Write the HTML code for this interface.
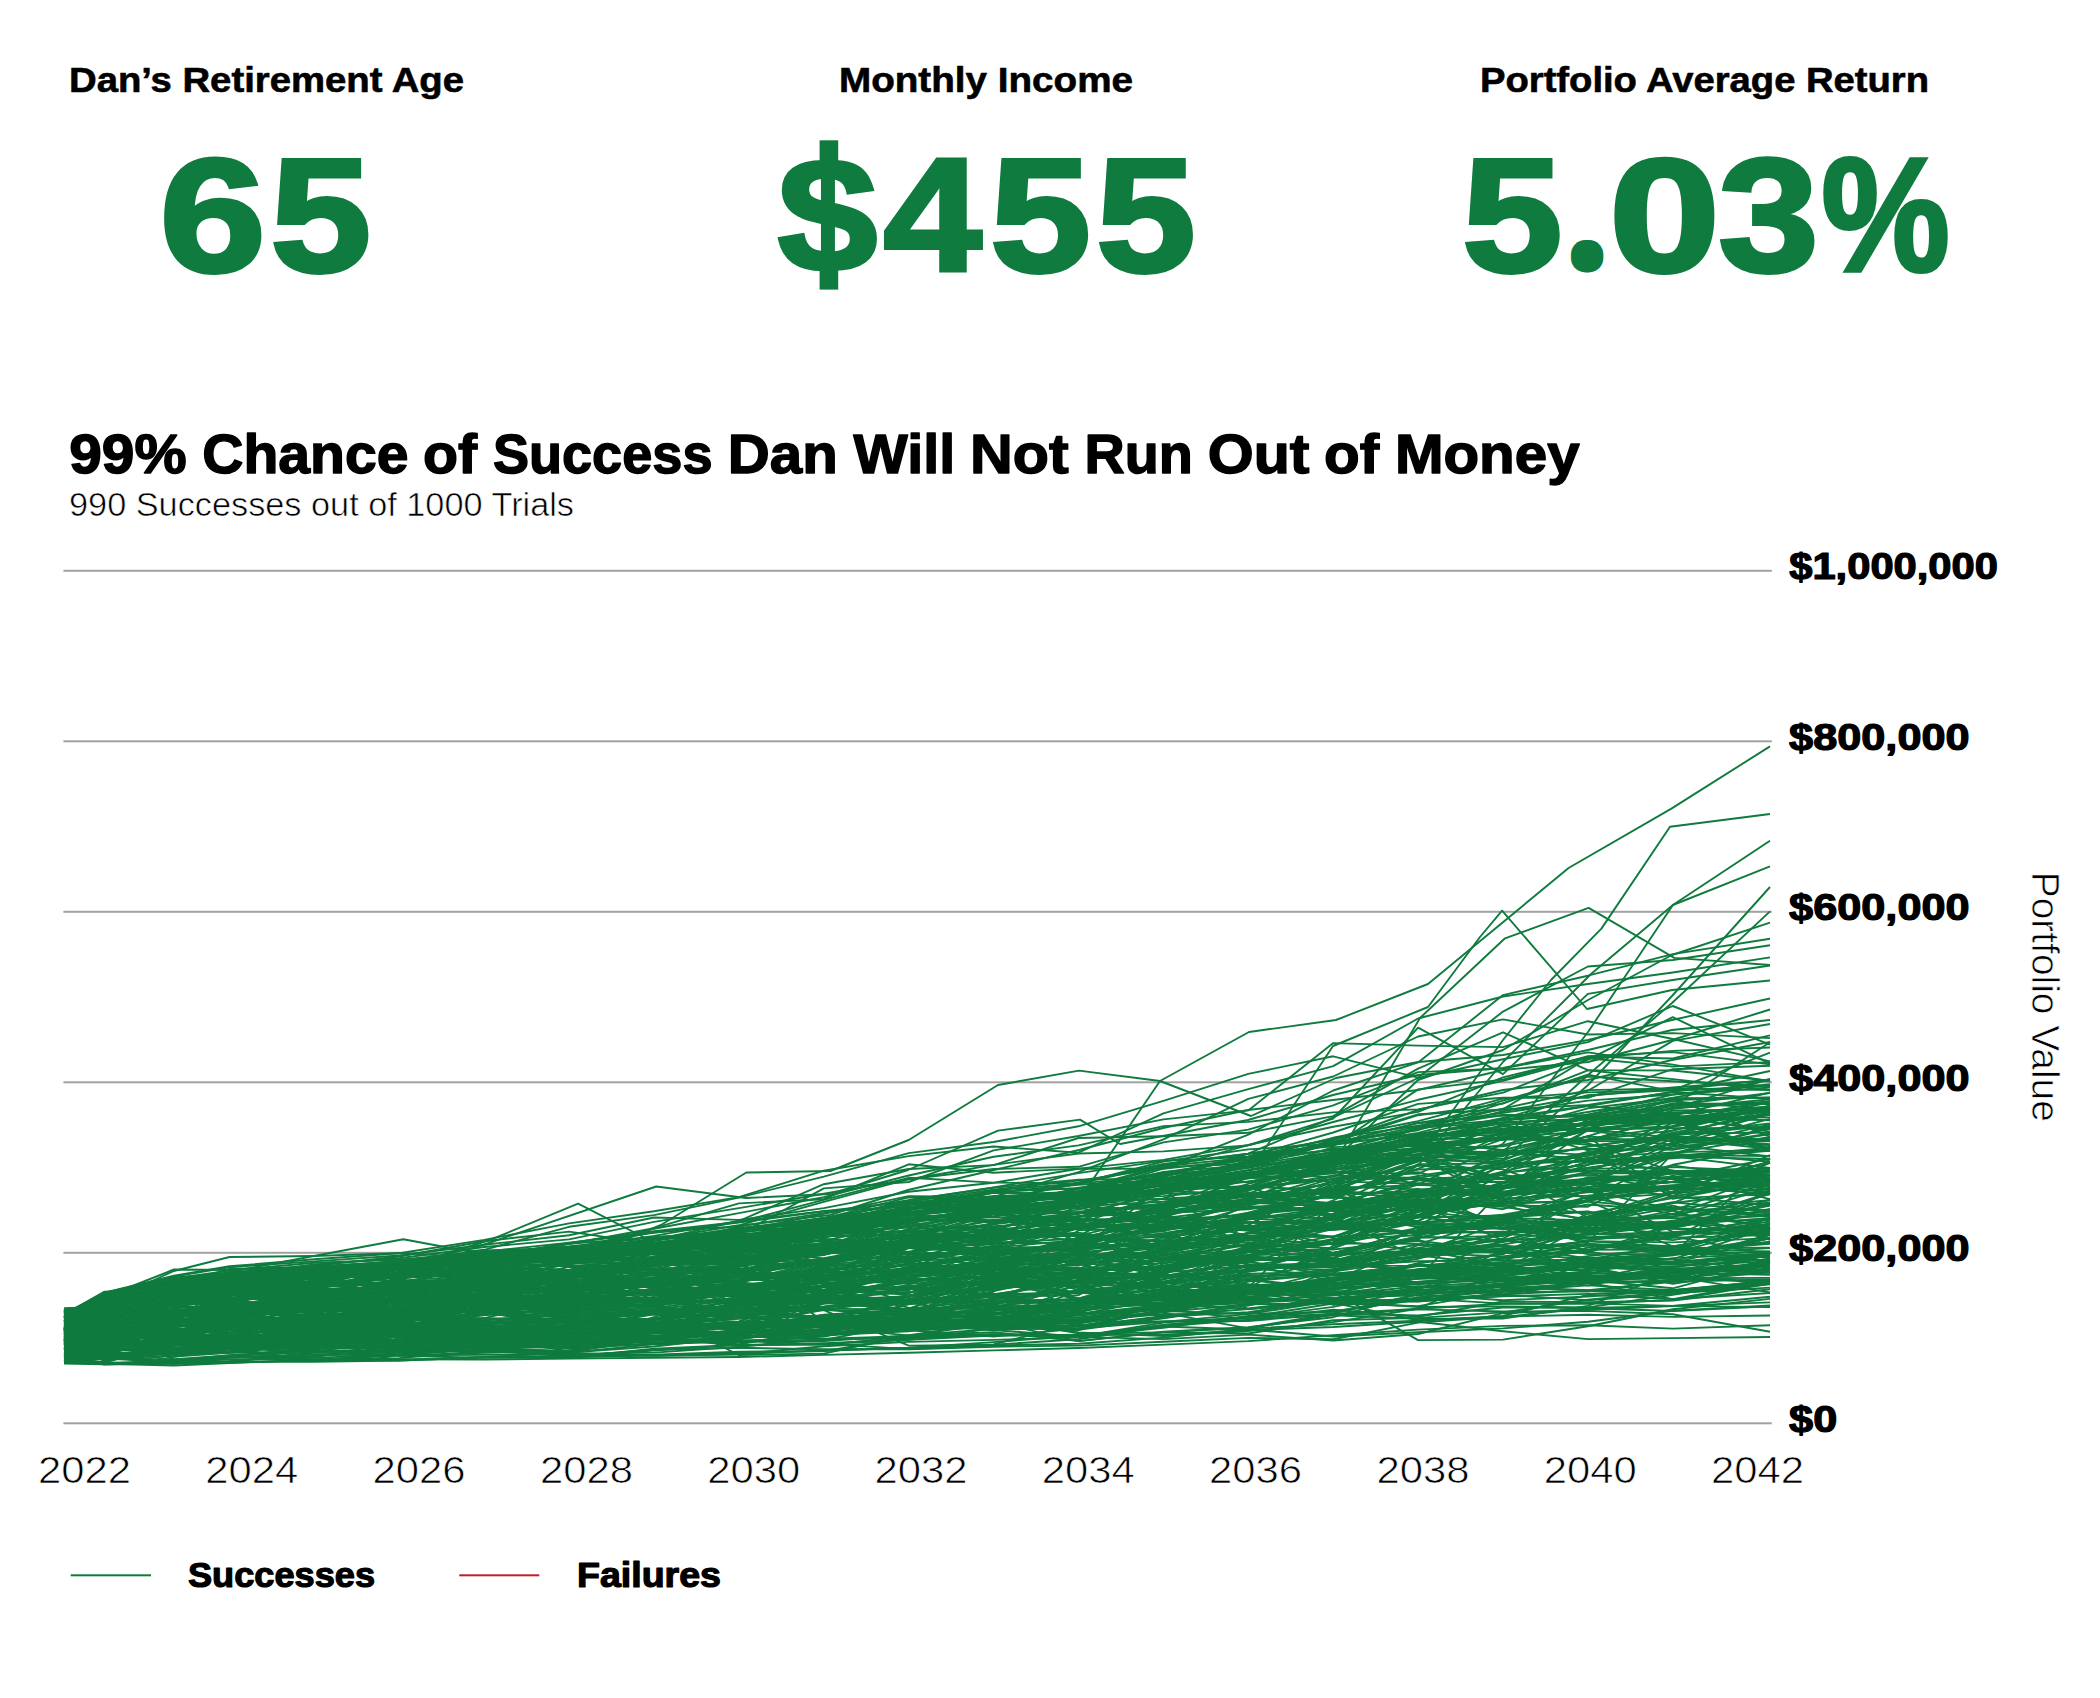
<!DOCTYPE html>
<html lang="en"><head><meta charset="utf-8"><title>Retirement Monte Carlo</title>
<style>html,body{margin:0;padding:0;background:#fff}body{width:2100px;height:1698px;overflow:hidden}svg{display:block}</style>
</head><body>
<svg width="2100" height="1698" viewBox="0 0 2100 1698">
<rect width="2100" height="1698" fill="#fff"/>
<text y="270.6" font-size="160.9" style="font-family:'Liberation Sans',Arial,sans-serif;font-weight:700" fill="#0f7b3e" stroke="#0f7b3e" stroke-width="4.0" stroke-miterlimit="3"><tspan x="159.6" textLength="106.4" lengthAdjust="spacingAndGlyphs">6</tspan><tspan x="270.3" textLength="100.9" lengthAdjust="spacingAndGlyphs">5</tspan></text>
<rect x="819.6" y="140.3" width="18.6" height="24" fill="#0f7b3e"/><rect x="819.6" y="266" width="18.6" height="23.6" fill="#0f7b3e"/>
<text y="270.6" font-size="160.9" style="font-family:'Liberation Sans',Arial,sans-serif;font-weight:700" fill="#0f7b3e" stroke="#0f7b3e" stroke-width="4.0" stroke-miterlimit="3"><tspan x="777.8" textLength="99.5" lengthAdjust="spacingAndGlyphs">$</tspan><tspan x="883.6" textLength="98.2" lengthAdjust="spacingAndGlyphs">4</tspan><tspan x="990.0" textLength="100.9" lengthAdjust="spacingAndGlyphs">5</tspan><tspan x="1096.1" textLength="99.7" lengthAdjust="spacingAndGlyphs">5</tspan></text>
<text y="270.6" font-size="160.9" style="font-family:'Liberation Sans',Arial,sans-serif;font-weight:700" fill="#0f7b3e" stroke="#0f7b3e" stroke-width="4.0" stroke-miterlimit="3"><tspan x="1462.1" textLength="100.5" lengthAdjust="spacingAndGlyphs">5</tspan><tspan x="1583.8" dy="-12.5" font-size="24.0" stroke-width="28.9" stroke-linejoin="round">.</tspan><tspan x="1609.0" dy="12.5" textLength="111.1" lengthAdjust="spacingAndGlyphs">0</tspan><tspan x="1718.2" textLength="100.5" lengthAdjust="spacingAndGlyphs">3</tspan><tspan x="1821.4" textLength="128.3" lengthAdjust="spacingAndGlyphs">%</tspan></text>
<text x="69" y="92.1" font-size="35.3" style="font-family:'Liberation Sans',Arial,sans-serif;font-weight:700" fill="#000" textLength="395" lengthAdjust="spacingAndGlyphs" stroke="#000" stroke-width="0.6" stroke-linejoin="round">Dan’s Retirement Age</text>
<text x="839" y="92.1" font-size="35.3" style="font-family:'Liberation Sans',Arial,sans-serif;font-weight:700" fill="#000" textLength="294" lengthAdjust="spacingAndGlyphs" stroke="#000" stroke-width="0.6" stroke-linejoin="round">Monthly Income</text>
<text x="1480" y="92.2" font-size="35.3" style="font-family:'Liberation Sans',Arial,sans-serif;font-weight:700" fill="#000" textLength="449" lengthAdjust="spacingAndGlyphs" stroke="#000" stroke-width="0.6" stroke-linejoin="round">Portfolio Average Return</text>
<text y="472.6" font-size="54.6" style="font-family:'Liberation Sans',Arial,sans-serif;font-weight:700" fill="#000" stroke="#000" stroke-width="1.4" stroke-linejoin="round"><tspan x="69.2" textLength="117.4" lengthAdjust="spacingAndGlyphs">99%</tspan> <tspan x="202.2" textLength="206.3" lengthAdjust="spacingAndGlyphs">Chance</tspan> <tspan x="423.1" textLength="54.1" lengthAdjust="spacingAndGlyphs">of</tspan> <tspan x="492.9" textLength="219.6" lengthAdjust="spacingAndGlyphs">Success</tspan> <tspan x="727.8" textLength="109.9" lengthAdjust="spacingAndGlyphs">Dan</tspan> <tspan x="853.6" textLength="101.7" lengthAdjust="spacingAndGlyphs">Will</tspan> <tspan x="970.0" textLength="98.6" lengthAdjust="spacingAndGlyphs">Not</tspan> <tspan x="1084.6" textLength="108.3" lengthAdjust="spacingAndGlyphs">Run</tspan> <tspan x="1207.8" textLength="101.7" lengthAdjust="spacingAndGlyphs">Out</tspan> <tspan x="1324.1" textLength="55.1" lengthAdjust="spacingAndGlyphs">of</tspan> <tspan x="1394.9" textLength="184.7" lengthAdjust="spacingAndGlyphs">Money</tspan></text>
<text x="69" y="515.5" font-size="33" style="font-family:'Liberation Sans',Arial,sans-serif;font-weight:400" fill="#000" textLength="505" lengthAdjust="spacingAndGlyphs" stroke="#fff" stroke-width="0.6">990 Successes out of 1000 Trials</text>
<rect x="63.4" y="569.8" width="1708.4" height="2" fill="#a2a2a2"/>
<rect x="63.4" y="740.3" width="1708.4" height="2" fill="#a2a2a2"/>
<rect x="63.4" y="910.8" width="1708.4" height="2" fill="#a2a2a2"/>
<rect x="63.4" y="1081.3" width="1708.4" height="2" fill="#a2a2a2"/>
<rect x="63.4" y="1251.8" width="1708.4" height="2" fill="#a2a2a2"/>
<rect x="63.4" y="1422.3" width="1708.4" height="2" fill="#a2a2a2"/>
<g fill="none" stroke="#0f7b3e" stroke-width="1.9" stroke-linejoin="round">
<polyline points="64.0,1342.1 76.0,1339.4 104.5,1329.8 174.0,1312.9 229.5,1305.4 314.4,1297.7 399.3,1290.0 484.2,1287.5 569.1,1261.2 654.0,1248.4 738.9,1240.9 823.8,1228.7 908.7,1211.4 993.6,1208.3 1078.5,1187.7 1163.4,1181.3 1248.3,1172.5 1333.2,1162.4 1418.1,1142.7 1503.0,1129.7 1587.9,1119.2 1672.8,1121.6 1770.0,1151.0"/>
<polyline points="64.0,1321.5 76.0,1316.8 104.5,1298.1 174.0,1282.5 229.5,1276.3 314.4,1269.3 399.3,1263.0 484.2,1258.8 569.1,1251.1 654.0,1242.4 738.9,1235.6 823.8,1223.1 908.7,1203.6 993.6,1191.3 1078.5,1188.5 1163.4,1173.8 1248.3,1157.1 1333.2,1143.7 1418.1,1134.5 1503.0,1132.0 1587.9,1143.1 1672.8,1171.1 1770.0,1179.3"/>
<polyline points="64.0,1330.6 76.0,1328.9 104.5,1330.2 174.0,1339.9 229.5,1341.2 314.4,1338.7 399.3,1345.8 484.2,1334.8 569.1,1328.5 654.0,1322.7 738.9,1326.9 823.8,1327.6 908.7,1335.4 993.6,1328.9 1078.5,1328.3 1163.4,1321.9 1248.3,1314.1 1333.2,1300.8 1418.1,1307.0 1503.0,1306.4 1587.9,1307.4 1672.8,1294.7 1770.0,1279.8"/>
<polyline points="64.0,1333.4 76.0,1331.4 104.5,1304.3 174.0,1300.5 229.5,1279.6 314.4,1293.6 399.3,1300.8 484.2,1276.7 569.1,1259.5 654.0,1253.0 738.9,1258.6 823.8,1260.0 908.7,1238.1 993.6,1229.8 1078.5,1222.8 1163.4,1236.7 1248.3,1227.5 1333.2,1226.9 1418.1,1201.1 1503.0,1202.4 1587.9,1213.9 1672.8,1208.1 1770.0,1200.2"/>
<polyline points="64.0,1349.1 76.0,1348.7 104.5,1310.7 174.0,1312.5 229.5,1318.0 314.4,1293.8 399.3,1283.9 484.2,1261.9 569.1,1256.8 654.0,1252.5 738.9,1238.4 823.8,1241.9 908.7,1238.3 993.6,1241.7 1078.5,1226.1 1163.4,1225.0 1248.3,1203.6 1333.2,1196.0 1418.1,1206.0 1503.0,1171.7 1587.9,1119.2 1672.8,1113.5 1770.0,1108.7"/>
<polyline points="64.0,1312.1 76.0,1314.7 104.5,1303.4 174.0,1312.4 229.5,1305.2 314.4,1293.1 399.3,1288.0 484.2,1281.3 569.1,1295.7 654.0,1281.9 738.9,1253.9 823.8,1263.3 908.7,1253.3 993.6,1253.0 1078.5,1248.0 1163.4,1239.9 1248.3,1214.0 1333.2,1194.2 1418.1,1191.0 1503.0,1197.4 1587.9,1164.6 1672.8,1117.7 1770.0,1120.2"/>
<polyline points="64.0,1345.6 76.0,1344.4 104.5,1323.4 174.0,1341.6 229.5,1335.5 314.4,1337.8 399.3,1327.0 484.2,1315.1 569.1,1309.5 654.0,1288.7 738.9,1295.6 823.8,1291.1 908.7,1293.4 993.6,1257.5 1078.5,1262.0 1163.4,1260.8 1248.3,1257.7 1333.2,1262.2 1418.1,1256.4 1503.0,1242.1 1587.9,1223.9 1672.8,1203.2 1770.0,1162.9"/>
<polyline points="64.0,1345.4 76.0,1348.4 104.5,1342.5 174.0,1344.9 229.5,1338.0 314.4,1339.3 399.3,1343.0 484.2,1324.2 569.1,1318.0 654.0,1324.5 738.9,1323.9 823.8,1321.9 908.7,1298.8 993.6,1304.4 1078.5,1282.9 1163.4,1283.0 1248.3,1274.6 1333.2,1304.7 1418.1,1286.6 1503.0,1281.5 1587.9,1279.3 1672.8,1262.1 1770.0,1254.8"/>
<polyline points="64.0,1349.6 76.0,1348.1 104.5,1338.8 174.0,1286.3 229.5,1280.7 314.4,1274.8 399.3,1275.3 484.2,1277.0 569.1,1274.1 654.0,1284.0 738.9,1297.7 823.8,1286.4 908.7,1295.2 993.6,1282.8 1078.5,1270.2 1163.4,1269.8 1248.3,1232.5 1333.2,1236.8 1418.1,1215.8 1503.0,1202.1 1587.9,1188.5 1672.8,1186.7 1770.0,1194.1"/>
<polyline points="64.0,1312.0 76.0,1310.2 104.5,1300.4 174.0,1286.0 229.5,1279.8 314.4,1275.5 399.3,1292.6 484.2,1288.5 569.1,1273.5 654.0,1279.2 738.9,1280.8 823.8,1261.3 908.7,1255.9 993.6,1309.3 1078.5,1301.8 1163.4,1294.7 1248.3,1287.5 1333.2,1246.2 1418.1,1208.9 1503.0,1204.5 1587.9,1181.1 1672.8,1171.3 1770.0,1168.2"/>
<polyline points="64.0,1358.8 76.0,1360.8 104.5,1357.3 174.0,1349.3 229.5,1339.1 314.4,1340.8 399.3,1323.9 484.2,1321.5 569.1,1322.9 654.0,1318.6 738.9,1307.0 823.8,1279.7 908.7,1282.0 993.6,1269.6 1078.5,1270.3 1163.4,1266.1 1248.3,1261.5 1333.2,1275.5 1418.1,1271.3 1503.0,1252.6 1587.9,1259.2 1672.8,1245.9 1770.0,1258.3"/>
<polyline points="64.0,1316.9 76.0,1311.0 104.5,1296.3 174.0,1285.0 229.5,1269.0 314.4,1266.8 399.3,1261.8 484.2,1256.3 569.1,1251.1 654.0,1247.8 738.9,1237.9 823.8,1222.3 908.7,1215.9 993.6,1207.0 1078.5,1200.4 1163.4,1192.3 1248.3,1181.6 1333.2,1170.3 1418.1,1158.4 1503.0,1155.2 1587.9,1139.3 1672.8,1126.9 1770.0,1108.6"/>
<polyline points="64.0,1362.6 76.0,1362.6 104.5,1361.5 174.0,1342.3 229.5,1335.6 314.4,1324.9 399.3,1309.4 484.2,1330.9 569.1,1331.0 654.0,1326.5 738.9,1321.5 823.8,1292.2 908.7,1271.8 993.6,1266.3 1078.5,1290.2 1163.4,1265.8 1248.3,1255.2 1333.2,1238.9 1418.1,1230.9 1503.0,1232.4 1587.9,1227.9 1672.8,1227.6 1770.0,1202.9"/>
<polyline points="64.0,1330.9 76.0,1318.8 104.5,1298.3 174.0,1295.1 229.5,1291.1 314.4,1275.9 399.3,1269.7 484.2,1278.7 569.1,1276.6 654.0,1280.4 738.9,1281.6 823.8,1223.5 908.7,1207.5 993.6,1196.0 1078.5,1194.0 1163.4,1168.6 1248.3,1145.1 1333.2,1118.5 1418.1,1027.7 1503.0,1074.1 1587.9,993.9 1672.8,980.0 1770.0,965.5"/>
<polyline points="64.0,1337.3 76.0,1341.8 104.5,1314.7 174.0,1341.2 229.5,1326.1 314.4,1317.7 399.3,1294.6 484.2,1281.7 569.1,1284.0 654.0,1271.4 738.9,1274.7 823.8,1290.1 908.7,1257.7 993.6,1250.9 1078.5,1250.0 1163.4,1242.8 1248.3,1204.6 1333.2,1188.8 1418.1,1185.0 1503.0,1173.9 1587.9,1217.5 1672.8,1205.7 1770.0,1228.9"/>
<polyline points="64.0,1349.4 76.0,1346.2 104.5,1355.7 174.0,1333.3 229.5,1313.6 314.4,1289.0 399.3,1300.8 484.2,1301.6 569.1,1301.3 654.0,1289.3 738.9,1290.9 823.8,1286.7 908.7,1258.9 993.6,1247.6 1078.5,1240.0 1163.4,1230.5 1248.3,1217.0 1333.2,1253.3 1418.1,1230.2 1503.0,1233.4 1587.9,1216.6 1672.8,1191.5 1770.0,1161.5"/>
<polyline points="64.0,1336.7 76.0,1335.9 104.5,1337.4 174.0,1325.0 229.5,1316.9 314.4,1303.7 399.3,1303.5 484.2,1293.4 569.1,1302.6 654.0,1299.0 738.9,1303.4 823.8,1298.5 908.7,1300.8 993.6,1263.9 1078.5,1276.5 1163.4,1249.0 1248.3,1239.9 1333.2,1227.9 1418.1,1215.2 1503.0,1201.4 1587.9,1177.3 1672.8,1178.3 1770.0,1180.0"/>
<polyline points="64.0,1342.1 76.0,1338.1 104.5,1313.2 174.0,1292.5 229.5,1281.0 314.4,1287.2 399.3,1271.6 484.2,1264.6 569.1,1259.0 654.0,1257.3 738.9,1247.6 823.8,1252.1 908.7,1244.3 993.6,1252.0 1078.5,1242.9 1163.4,1258.1 1248.3,1243.7 1333.2,1257.6 1418.1,1237.8 1503.0,1219.9 1587.9,1243.6 1672.8,1251.3 1770.0,1222.9"/>
<polyline points="64.0,1325.7 76.0,1327.7 104.5,1321.4 174.0,1313.8 229.5,1317.3 314.4,1304.9 399.3,1302.1 484.2,1294.2 569.1,1297.3 654.0,1303.2 738.9,1294.4 823.8,1276.9 908.7,1267.9 993.6,1262.8 1078.5,1237.7 1163.4,1240.6 1248.3,1247.0 1333.2,1242.1 1418.1,1201.5 1503.0,1202.8 1587.9,1200.9 1672.8,1237.5 1770.0,1191.2"/>
<polyline points="64.0,1309.8 76.0,1309.0 104.5,1298.3 174.0,1306.9 229.5,1305.9 314.4,1311.6 399.3,1339.1 484.2,1337.6 569.1,1333.4 654.0,1332.0 738.9,1327.5 823.8,1315.0 908.7,1310.6 993.6,1303.0 1078.5,1299.9 1163.4,1288.7 1248.3,1280.4 1333.2,1259.6 1418.1,1274.3 1503.0,1263.7 1587.9,1262.6 1672.8,1264.9 1770.0,1261.8"/>
<polyline points="64.0,1345.1 76.0,1346.0 104.5,1352.3 174.0,1354.0 229.5,1346.1 314.4,1343.2 399.3,1341.0 484.2,1336.3 569.1,1333.3 654.0,1330.0 738.9,1326.0 823.8,1299.6 908.7,1281.5 993.6,1268.2 1078.5,1259.1 1163.4,1241.4 1248.3,1212.8 1333.2,1229.0 1418.1,1217.4 1503.0,1215.4 1587.9,1211.4 1672.8,1227.9 1770.0,1199.5"/>
<polyline points="64.0,1327.1 76.0,1326.3 104.5,1315.9 174.0,1310.5 229.5,1310.4 314.4,1307.3 399.3,1328.7 484.2,1304.9 569.1,1296.6 654.0,1289.6 738.9,1286.0 823.8,1286.2 908.7,1279.3 993.6,1285.5 1078.5,1277.0 1163.4,1290.5 1248.3,1288.8 1333.2,1291.1 1418.1,1292.6 1503.0,1284.9 1587.9,1281.3 1672.8,1272.5 1770.0,1274.8"/>
<polyline points="64.0,1312.0 76.0,1310.8 104.5,1295.6 174.0,1282.4 229.5,1277.0 314.4,1270.9 399.3,1263.4 484.2,1259.0 569.1,1255.1 654.0,1244.7 738.9,1232.2 823.8,1219.4 908.7,1207.5 993.6,1192.6 1078.5,1184.7 1163.4,1179.7 1248.3,1167.9 1333.2,1152.5 1418.1,1137.2 1503.0,1126.4 1587.9,1129.4 1672.8,1098.4 1770.0,1136.6"/>
<polyline points="64.0,1352.0 76.0,1351.6 104.5,1350.4 174.0,1334.4 229.5,1318.1 314.4,1307.0 399.3,1278.3 484.2,1264.5 569.1,1259.1 654.0,1248.7 738.9,1239.9 823.8,1220.5 908.7,1212.8 993.6,1208.4 1078.5,1241.7 1163.4,1236.5 1248.3,1229.4 1333.2,1225.7 1418.1,1224.9 1503.0,1185.9 1587.9,1172.6 1672.8,1134.1 1770.0,1123.5"/>
<polyline points="64.0,1312.2 76.0,1311.0 104.5,1345.3 174.0,1348.8 229.5,1343.0 314.4,1338.5 399.3,1355.2 484.2,1354.9 569.1,1354.4 654.0,1355.5 738.9,1353.0 823.8,1350.8 908.7,1347.7 993.6,1342.1 1078.5,1335.7 1163.4,1326.5 1248.3,1329.5 1333.2,1336.5 1418.1,1332.3 1503.0,1328.4 1587.9,1321.7 1672.8,1310.7 1770.0,1305.4"/>
<polyline points="64.0,1310.2 76.0,1309.4 104.5,1294.7 174.0,1282.8 229.5,1276.4 314.4,1272.8 399.3,1267.2 484.2,1254.2 569.1,1248.1 654.0,1232.3 738.9,1226.3 823.8,1213.1 908.7,1200.1 993.6,1187.7 1078.5,1179.6 1163.4,1178.5 1248.3,1163.1 1333.2,1143.9 1418.1,1126.6 1503.0,1120.1 1587.9,1114.9 1672.8,1094.5 1770.0,1087.5"/>
<polyline points="64.0,1335.4 76.0,1336.8 104.5,1343.6 174.0,1356.8 229.5,1348.1 314.4,1360.4 399.3,1360.5 484.2,1357.2 569.1,1357.4 654.0,1348.6 738.9,1344.9 823.8,1343.7 908.7,1349.1 993.6,1345.5 1078.5,1343.7 1163.4,1337.6 1248.3,1328.6 1333.2,1324.3 1418.1,1320.7 1503.0,1315.9 1587.9,1294.8 1672.8,1299.1 1770.0,1281.6"/>
<polyline points="64.0,1309.7 76.0,1308.7 104.5,1296.0 174.0,1282.6 229.5,1276.0 314.4,1271.0 399.3,1266.3 484.2,1259.7 569.1,1252.7 654.0,1238.2 738.9,1237.2 823.8,1225.3 908.7,1208.4 993.6,1190.2 1078.5,1183.5 1163.4,1165.1 1248.3,1153.7 1333.2,1117.4 1418.1,1078.0 1503.0,1059.3 1587.9,1042.1 1672.8,1006.0 1770.0,1044.6"/>
<polyline points="64.0,1309.6 76.0,1308.8 104.5,1295.7 174.0,1283.2 229.5,1279.6 314.4,1275.1 399.3,1268.9 484.2,1271.1 569.1,1282.9 654.0,1286.0 738.9,1277.8 823.8,1269.6 908.7,1262.0 993.6,1249.1 1078.5,1248.6 1163.4,1243.6 1248.3,1218.7 1333.2,1184.0 1418.1,1150.0 1503.0,1155.0 1587.9,1136.5 1672.8,1198.7 1770.0,1180.5"/>
<polyline points="64.0,1342.7 76.0,1340.7 104.5,1318.3 174.0,1305.1 229.5,1312.0 314.4,1306.7 399.3,1276.9 484.2,1264.3 569.1,1258.2 654.0,1261.2 738.9,1243.0 823.8,1224.9 908.7,1213.4 993.6,1207.6 1078.5,1198.4 1163.4,1193.1 1248.3,1177.0 1333.2,1181.7 1418.1,1157.4 1503.0,1201.6 1587.9,1220.9 1672.8,1203.0 1770.0,1191.8"/>
<polyline points="64.0,1353.0 76.0,1352.3 104.5,1320.5 174.0,1285.9 229.5,1279.4 314.4,1273.4 399.3,1281.9 484.2,1277.8 569.1,1270.4 654.0,1258.4 738.9,1257.9 823.8,1252.3 908.7,1225.3 993.6,1239.5 1078.5,1211.6 1163.4,1204.1 1248.3,1195.5 1333.2,1192.9 1418.1,1176.0 1503.0,1163.2 1587.9,1160.7 1672.8,1156.4 1770.0,1168.0"/>
<polyline points="64.0,1330.3 76.0,1330.9 104.5,1319.6 174.0,1299.5 229.5,1308.6 314.4,1297.6 399.3,1292.3 484.2,1303.1 569.1,1304.2 654.0,1305.0 738.9,1298.3 823.8,1298.4 908.7,1301.7 993.6,1284.2 1078.5,1260.7 1163.4,1223.0 1248.3,1222.3 1333.2,1223.8 1418.1,1224.0 1503.0,1224.2 1587.9,1189.9 1672.8,1187.4 1770.0,1179.1"/>
<polyline points="64.0,1333.1 76.0,1330.6 104.5,1315.5 174.0,1320.6 229.5,1312.6 314.4,1315.1 399.3,1282.2 484.2,1295.8 569.1,1309.0 654.0,1300.7 738.9,1294.0 823.8,1272.4 908.7,1273.6 993.6,1287.2 1078.5,1274.7 1163.4,1294.3 1248.3,1291.5 1333.2,1270.5 1418.1,1255.4 1503.0,1265.4 1587.9,1244.7 1672.8,1252.8 1770.0,1227.7"/>
<polyline points="64.0,1354.7 76.0,1355.2 104.5,1350.5 174.0,1323.4 229.5,1302.9 314.4,1310.5 399.3,1300.7 484.2,1276.5 569.1,1270.0 654.0,1264.0 738.9,1243.6 823.8,1253.9 908.7,1240.6 993.6,1223.1 1078.5,1198.9 1163.4,1185.5 1248.3,1178.3 1333.2,1173.6 1418.1,1149.2 1503.0,1146.4 1587.9,1128.3 1672.8,1107.7 1770.0,1102.7"/>
<polyline points="64.0,1354.8 76.0,1355.2 104.5,1359.6 174.0,1352.8 229.5,1347.8 314.4,1341.6 399.3,1337.4 484.2,1335.9 569.1,1336.7 654.0,1336.7 738.9,1324.7 823.8,1316.5 908.7,1330.0 993.6,1327.0 1078.5,1308.2 1163.4,1298.0 1248.3,1292.6 1333.2,1297.7 1418.1,1295.3 1503.0,1285.8 1587.9,1279.5 1672.8,1267.1 1770.0,1252.7"/>
<polyline points="64.0,1350.2 76.0,1349.2 104.5,1360.8 174.0,1349.2 229.5,1337.7 314.4,1330.4 399.3,1329.3 484.2,1325.8 569.1,1325.4 654.0,1322.3 738.9,1316.6 823.8,1291.6 908.7,1288.9 993.6,1294.0 1078.5,1292.7 1163.4,1297.6 1248.3,1290.7 1333.2,1284.8 1418.1,1263.1 1503.0,1254.4 1587.9,1213.5 1672.8,1198.1 1770.0,1194.4"/>
<polyline points="64.0,1330.2 76.0,1329.5 104.5,1317.9 174.0,1306.2 229.5,1297.4 314.4,1298.5 399.3,1317.2 484.2,1325.7 569.1,1328.4 654.0,1313.4 738.9,1305.1 823.8,1302.5 908.7,1309.7 993.6,1314.7 1078.5,1303.4 1163.4,1304.0 1248.3,1289.0 1333.2,1277.9 1418.1,1273.2 1503.0,1256.9 1587.9,1249.9 1672.8,1232.0 1770.0,1228.0"/>
<polyline points="64.0,1331.3 76.0,1328.0 104.5,1326.4 174.0,1299.5 229.5,1310.6 314.4,1300.2 399.3,1298.0 484.2,1300.0 569.1,1292.4 654.0,1280.4 738.9,1278.7 823.8,1272.6 908.7,1248.0 993.6,1247.5 1078.5,1221.1 1163.4,1220.0 1248.3,1214.7 1333.2,1205.3 1418.1,1180.0 1503.0,1179.0 1587.9,1175.3 1672.8,1179.0 1770.0,1188.6"/>
<polyline points="64.0,1340.0 76.0,1336.8 104.5,1332.4 174.0,1349.0 229.5,1342.9 314.4,1341.5 399.3,1352.6 484.2,1343.6 569.1,1348.4 654.0,1338.3 738.9,1342.2 823.8,1336.5 908.7,1320.3 993.6,1309.9 1078.5,1306.3 1163.4,1296.4 1248.3,1279.6 1333.2,1274.3 1418.1,1265.1 1503.0,1263.7 1587.9,1262.5 1672.8,1253.6 1770.0,1248.1"/>
<polyline points="64.0,1327.7 76.0,1323.7 104.5,1343.8 174.0,1342.9 229.5,1341.9 314.4,1343.9 399.3,1346.6 484.2,1343.5 569.1,1341.0 654.0,1339.2 738.9,1329.7 823.8,1318.0 908.7,1319.0 993.6,1307.0 1078.5,1305.9 1163.4,1289.4 1248.3,1299.9 1333.2,1300.0 1418.1,1287.8 1503.0,1286.6 1587.9,1291.1 1672.8,1293.1 1770.0,1287.6"/>
<polyline points="64.0,1354.1 76.0,1355.7 104.5,1348.3 174.0,1327.7 229.5,1335.1 314.4,1326.4 399.3,1312.2 484.2,1323.1 569.1,1322.9 654.0,1324.1 738.9,1312.4 823.8,1294.3 908.7,1269.4 993.6,1262.6 1078.5,1277.8 1163.4,1312.9 1248.3,1328.4 1333.2,1314.8 1418.1,1309.4 1503.0,1311.5 1587.9,1310.9 1672.8,1314.3 1770.0,1331.7"/>
<polyline points="64.0,1328.7 76.0,1323.4 104.5,1309.0 174.0,1314.7 229.5,1311.3 314.4,1295.6 399.3,1304.3 484.2,1292.5 569.1,1318.7 654.0,1313.6 738.9,1300.6 823.8,1294.5 908.7,1303.6 993.6,1299.6 1078.5,1271.8 1163.4,1274.6 1248.3,1238.6 1333.2,1222.9 1418.1,1233.0 1503.0,1218.1 1587.9,1190.1 1672.8,1181.8 1770.0,1162.9"/>
<polyline points="64.0,1310.9 76.0,1309.2 104.5,1296.1 174.0,1285.6 229.5,1293.6 314.4,1299.9 399.3,1290.1 484.2,1292.1 569.1,1320.8 654.0,1327.9 738.9,1341.8 823.8,1336.1 908.7,1302.0 993.6,1302.4 1078.5,1302.7 1163.4,1305.4 1248.3,1296.8 1333.2,1287.9 1418.1,1284.2 1503.0,1279.4 1587.9,1281.0 1672.8,1277.1 1770.0,1261.3"/>
<polyline points="64.0,1361.4 76.0,1360.0 104.5,1357.5 174.0,1362.2 229.5,1361.5 314.4,1352.5 399.3,1352.7 484.2,1349.8 569.1,1356.2 654.0,1354.7 738.9,1351.7 823.8,1351.2 908.7,1337.2 993.6,1334.5 1078.5,1336.4 1163.4,1327.7 1248.3,1315.9 1333.2,1311.5 1418.1,1299.7 1503.0,1294.3 1587.9,1290.3 1672.8,1290.2 1770.0,1280.6"/>
<polyline points="64.0,1312.6 76.0,1311.6 104.5,1334.3 174.0,1326.4 229.5,1325.3 314.4,1306.3 399.3,1302.6 484.2,1306.3 569.1,1301.1 654.0,1307.9 738.9,1297.3 823.8,1298.5 908.7,1304.2 993.6,1296.7 1078.5,1295.3 1163.4,1245.8 1248.3,1215.6 1333.2,1218.3 1418.1,1193.8 1503.0,1162.7 1587.9,1136.2 1672.8,1110.5 1770.0,1109.4"/>
<polyline points="64.0,1336.0 76.0,1333.7 104.5,1294.2 174.0,1282.8 229.5,1274.0 314.4,1268.2 399.3,1261.4 484.2,1252.2 569.1,1246.5 654.0,1237.3 738.9,1231.6 823.8,1217.9 908.7,1203.1 993.6,1200.7 1078.5,1183.6 1163.4,1175.4 1248.3,1157.4 1333.2,1150.3 1418.1,1145.8 1503.0,1137.6 1587.9,1131.1 1672.8,1120.0 1770.0,1109.1"/>
<polyline points="64.0,1358.2 76.0,1357.9 104.5,1358.5 174.0,1362.1 229.5,1356.8 314.4,1357.3 399.3,1341.9 484.2,1331.4 569.1,1336.0 654.0,1330.4 738.9,1322.7 823.8,1319.8 908.7,1312.9 993.6,1312.7 1078.5,1329.7 1163.4,1318.4 1248.3,1305.6 1333.2,1288.1 1418.1,1269.7 1503.0,1264.9 1587.9,1250.2 1672.8,1234.4 1770.0,1218.8"/>
<polyline points="64.0,1331.6 76.0,1331.7 104.5,1311.2 174.0,1302.5 229.5,1304.0 314.4,1304.5 399.3,1277.6 484.2,1311.3 569.1,1279.1 654.0,1283.7 738.9,1246.2 823.8,1244.1 908.7,1243.5 993.6,1231.5 1078.5,1199.9 1163.4,1206.9 1248.3,1204.8 1333.2,1181.7 1418.1,1165.5 1503.0,1169.3 1587.9,1199.4 1672.8,1155.1 1770.0,1156.0"/>
<polyline points="64.0,1350.3 76.0,1349.6 104.5,1335.0 174.0,1301.3 229.5,1307.7 314.4,1313.1 399.3,1295.1 484.2,1287.8 569.1,1282.4 654.0,1266.4 738.9,1254.2 823.8,1234.8 908.7,1225.6 993.6,1211.8 1078.5,1227.5 1163.4,1235.8 1248.3,1218.7 1333.2,1207.5 1418.1,1204.6 1503.0,1240.1 1587.9,1249.7 1672.8,1249.4 1770.0,1251.4"/>
<polyline points="64.0,1324.7 76.0,1322.6 104.5,1296.4 174.0,1286.2 229.5,1279.8 314.4,1273.6 399.3,1266.1 484.2,1256.4 569.1,1249.8 654.0,1228.8 738.9,1213.1 823.8,1197.2 908.7,1175.5 993.6,1156.7 1078.5,1145.4 1163.4,1126.1 1248.3,1121.9 1333.2,1112.4 1418.1,1109.4 1503.0,1092.6 1587.9,1059.6 1672.8,1017.1 1770.0,1063.6"/>
<polyline points="64.0,1309.7 76.0,1308.3 104.5,1296.6 174.0,1304.5 229.5,1290.9 314.4,1302.6 399.3,1298.7 484.2,1305.3 569.1,1300.8 654.0,1293.0 738.9,1316.5 823.8,1302.9 908.7,1297.1 993.6,1278.7 1078.5,1262.1 1163.4,1250.0 1248.3,1233.2 1333.2,1206.1 1418.1,1188.8 1503.0,1227.9 1587.9,1231.5 1672.8,1227.0 1770.0,1213.1"/>
<polyline points="64.0,1312.2 76.0,1310.6 104.5,1295.3 174.0,1282.3 229.5,1280.6 314.4,1274.5 399.3,1270.2 484.2,1272.0 569.1,1273.0 654.0,1270.0 738.9,1269.2 823.8,1261.6 908.7,1234.9 993.6,1236.0 1078.5,1248.0 1163.4,1213.0 1248.3,1209.2 1333.2,1196.1 1418.1,1168.7 1503.0,1139.2 1587.9,1124.2 1672.8,1104.1 1770.0,1103.1"/>
<polyline points="64.0,1333.1 76.0,1329.2 104.5,1327.8 174.0,1308.5 229.5,1316.4 314.4,1311.4 399.3,1305.6 484.2,1328.4 569.1,1333.5 654.0,1324.9 738.9,1311.4 823.8,1307.7 908.7,1297.3 993.6,1261.4 1078.5,1261.5 1163.4,1260.7 1248.3,1249.7 1333.2,1258.5 1418.1,1273.9 1503.0,1280.5 1587.9,1272.4 1672.8,1276.4 1770.0,1292.4"/>
<polyline points="64.0,1328.1 76.0,1332.8 104.5,1322.3 174.0,1320.8 229.5,1320.7 314.4,1317.9 399.3,1336.3 484.2,1333.3 569.1,1328.6 654.0,1325.9 738.9,1329.4 823.8,1333.5 908.7,1327.7 993.6,1326.0 1078.5,1322.7 1163.4,1304.7 1248.3,1281.5 1333.2,1273.8 1418.1,1265.9 1503.0,1270.6 1587.9,1263.2 1672.8,1263.3 1770.0,1238.0"/>
<polyline points="64.0,1309.7 76.0,1309.6 104.5,1298.0 174.0,1277.5 229.5,1273.1 314.4,1265.9 399.3,1256.5 484.2,1241.3 569.1,1231.6 654.0,1244.2 738.9,1231.1 823.8,1213.9 908.7,1196.1 993.6,1196.9 1078.5,1172.1 1163.4,1139.4 1248.3,1098.9 1333.2,1076.5 1418.1,1036.5 1503.0,1019.4 1587.9,1034.5 1672.8,1033.1 1770.0,1038.1"/>
<polyline points="64.0,1344.4 76.0,1340.6 104.5,1334.5 174.0,1321.5 229.5,1315.8 314.4,1329.2 399.3,1310.3 484.2,1319.9 569.1,1314.8 654.0,1312.7 738.9,1355.0 823.8,1353.6 908.7,1335.3 993.6,1323.8 1078.5,1325.9 1163.4,1316.9 1248.3,1312.1 1333.2,1299.9 1418.1,1290.9 1503.0,1283.5 1587.9,1258.9 1672.8,1253.3 1770.0,1242.0"/>
<polyline points="64.0,1353.5 76.0,1353.0 104.5,1350.4 174.0,1339.9 229.5,1308.3 314.4,1290.4 399.3,1288.2 484.2,1278.2 569.1,1264.5 654.0,1251.1 738.9,1242.8 823.8,1232.1 908.7,1215.1 993.6,1207.0 1078.5,1226.4 1163.4,1210.6 1248.3,1186.9 1333.2,1215.6 1418.1,1198.6 1503.0,1166.2 1587.9,1153.8 1672.8,1136.4 1770.0,1140.6"/>
<polyline points="64.0,1333.3 76.0,1331.7 104.5,1330.7 174.0,1298.2 229.5,1293.9 314.4,1290.8 399.3,1288.1 484.2,1287.9 569.1,1293.4 654.0,1274.2 738.9,1267.0 823.8,1242.5 908.7,1252.5 993.6,1261.3 1078.5,1253.7 1163.4,1223.2 1248.3,1214.2 1333.2,1207.4 1418.1,1199.8 1503.0,1200.6 1587.9,1153.1 1672.8,1133.7 1770.0,1132.5"/>
<polyline points="64.0,1309.9 76.0,1308.6 104.5,1293.0 174.0,1276.6 229.5,1267.2 314.4,1261.4 399.3,1255.5 484.2,1244.8 569.1,1235.2 654.0,1217.5 738.9,1219.9 823.8,1208.1 908.7,1191.7 993.6,1182.7 1078.5,1168.7 1163.4,1168.7 1248.3,1159.4 1333.2,1137.8 1418.1,1121.2 1503.0,1098.7 1587.9,1092.4 1672.8,1090.2 1770.0,1052.6"/>
<polyline points="64.0,1332.7 76.0,1330.0 104.5,1343.2 174.0,1348.5 229.5,1347.3 314.4,1352.1 399.3,1352.4 484.2,1342.2 569.1,1342.2 654.0,1340.5 738.9,1338.8 823.8,1328.8 908.7,1323.3 993.6,1307.3 1078.5,1303.6 1163.4,1293.8 1248.3,1285.3 1333.2,1285.5 1418.1,1274.4 1503.0,1239.9 1587.9,1221.5 1672.8,1217.1 1770.0,1187.3"/>
<polyline points="64.0,1324.7 76.0,1322.6 104.5,1303.8 174.0,1302.1 229.5,1298.5 314.4,1325.2 399.3,1322.1 484.2,1325.6 569.1,1312.4 654.0,1302.9 738.9,1280.6 823.8,1267.9 908.7,1256.5 993.6,1296.3 1078.5,1277.3 1163.4,1272.9 1248.3,1255.0 1333.2,1240.1 1418.1,1250.8 1503.0,1233.0 1587.9,1199.9 1672.8,1175.7 1770.0,1199.2"/>
<polyline points="64.0,1348.6 76.0,1348.3 104.5,1347.7 174.0,1345.1 229.5,1341.7 314.4,1338.1 399.3,1348.2 484.2,1343.5 569.1,1346.9 654.0,1339.1 738.9,1333.1 823.8,1332.6 908.7,1330.6 993.6,1327.2 1078.5,1330.2 1163.4,1302.8 1248.3,1293.0 1333.2,1278.9 1418.1,1276.4 1503.0,1280.0 1587.9,1279.9 1672.8,1273.2 1770.0,1265.7"/>
<polyline points="64.0,1329.0 76.0,1322.2 104.5,1303.9 174.0,1293.8 229.5,1293.7 314.4,1275.3 399.3,1278.0 484.2,1273.8 569.1,1276.9 654.0,1253.0 738.9,1257.5 823.8,1250.2 908.7,1254.4 993.6,1251.6 1078.5,1249.8 1163.4,1274.2 1248.3,1246.8 1333.2,1225.6 1418.1,1215.6 1503.0,1163.5 1587.9,1161.4 1672.8,1157.1 1770.0,1150.2"/>
<polyline points="64.0,1311.0 76.0,1310.5 104.5,1296.8 174.0,1279.6 229.5,1272.4 314.4,1266.4 399.3,1261.5 484.2,1252.5 569.1,1248.5 654.0,1235.9 738.9,1221.0 823.8,1184.2 908.7,1169.0 993.6,1165.1 1078.5,1138.0 1163.4,1136.3 1248.3,1132.8 1333.2,1116.1 1418.1,1068.6 1503.0,1032.3 1587.9,1070.1 1672.8,1070.5 1770.0,1080.8"/>
<polyline points="64.0,1309.7 76.0,1308.6 104.5,1306.1 174.0,1306.4 229.5,1300.6 314.4,1317.7 399.3,1328.5 484.2,1326.9 569.1,1321.0 654.0,1331.1 738.9,1334.5 823.8,1300.6 908.7,1247.3 993.6,1252.8 1078.5,1242.8 1163.4,1225.5 1248.3,1228.9 1333.2,1208.3 1418.1,1195.5 1503.0,1189.7 1587.9,1129.4 1672.8,1128.2 1770.0,1128.0"/>
<polyline points="64.0,1308.5 76.0,1307.6 104.5,1294.3 174.0,1280.8 229.5,1275.8 314.4,1268.7 399.3,1262.1 484.2,1255.2 569.1,1254.0 654.0,1243.1 738.9,1234.5 823.8,1188.4 908.7,1182.0 993.6,1150.4 1078.5,1136.0 1163.4,1119.4 1248.3,1110.4 1333.2,1043.1 1418.1,1045.6 1503.0,1047.1 1587.9,1021.2 1672.8,1039.0 1770.0,1061.4"/>
<polyline points="64.0,1334.1 76.0,1336.3 104.5,1317.2 174.0,1287.4 229.5,1288.5 314.4,1278.7 399.3,1269.6 484.2,1266.0 569.1,1270.2 654.0,1270.5 738.9,1272.4 823.8,1274.9 908.7,1269.2 993.6,1233.8 1078.5,1225.5 1163.4,1214.9 1248.3,1198.0 1333.2,1188.9 1418.1,1159.8 1503.0,1162.3 1587.9,1146.5 1672.8,1135.5 1770.0,1125.8"/>
<polyline points="64.0,1316.3 76.0,1311.9 104.5,1313.2 174.0,1286.6 229.5,1278.8 314.4,1270.8 399.3,1263.2 484.2,1258.0 569.1,1243.8 654.0,1237.1 738.9,1231.0 823.8,1225.8 908.7,1214.9 993.6,1208.4 1078.5,1191.8 1163.4,1172.0 1248.3,1165.3 1333.2,1151.8 1418.1,1129.1 1503.0,1114.7 1587.9,1116.8 1672.8,1105.2 1770.0,1093.0"/>
<polyline points="64.0,1340.4 76.0,1339.7 104.5,1318.5 174.0,1304.8 229.5,1295.9 314.4,1289.6 399.3,1286.6 484.2,1261.0 569.1,1255.7 654.0,1243.6 738.9,1229.1 823.8,1218.3 908.7,1197.3 993.6,1200.1 1078.5,1194.4 1163.4,1182.1 1248.3,1167.6 1333.2,1143.1 1418.1,1123.2 1503.0,1115.5 1587.9,1116.7 1672.8,1101.4 1770.0,1109.0"/>
<polyline points="64.0,1344.0 76.0,1345.6 104.5,1348.5 174.0,1327.5 229.5,1318.2 314.4,1296.8 399.3,1310.3 484.2,1291.6 569.1,1285.7 654.0,1263.7 738.9,1251.7 823.8,1249.5 908.7,1234.8 993.6,1231.8 1078.5,1236.4 1163.4,1189.5 1248.3,1251.7 1333.2,1217.2 1418.1,1207.0 1503.0,1186.0 1587.9,1161.9 1672.8,1146.4 1770.0,1124.6"/>
<polyline points="64.0,1325.0 76.0,1320.5 104.5,1331.1 174.0,1323.0 229.5,1308.1 314.4,1302.8 399.3,1279.4 484.2,1264.1 569.1,1266.3 654.0,1260.0 738.9,1251.8 823.8,1243.9 908.7,1244.0 993.6,1228.1 1078.5,1241.7 1163.4,1215.6 1248.3,1189.2 1333.2,1175.9 1418.1,1149.4 1503.0,1154.1 1587.9,1141.4 1672.8,1140.6 1770.0,1141.3"/>
<polyline points="64.0,1311.9 76.0,1310.6 104.5,1309.6 174.0,1336.6 229.5,1336.0 314.4,1316.7 399.3,1314.1 484.2,1332.5 569.1,1331.8 654.0,1327.0 738.9,1317.4 823.8,1295.8 908.7,1279.3 993.6,1277.2 1078.5,1273.8 1163.4,1287.3 1248.3,1264.4 1333.2,1266.1 1418.1,1265.6 1503.0,1258.6 1587.9,1226.6 1672.8,1210.9 1770.0,1174.4"/>
<polyline points="64.0,1310.4 76.0,1309.3 104.5,1296.9 174.0,1281.0 229.5,1277.0 314.4,1272.5 399.3,1267.3 484.2,1262.4 569.1,1255.6 654.0,1248.0 738.9,1237.4 823.8,1225.2 908.7,1210.4 993.6,1192.9 1078.5,1193.4 1163.4,1176.7 1248.3,1156.5 1333.2,1132.5 1418.1,1103.9 1503.0,1097.7 1587.9,1097.8 1672.8,1069.2 1770.0,1065.8"/>
<polyline points="64.0,1363.5 76.0,1363.8 104.5,1364.4 174.0,1363.9 229.5,1361.1 314.4,1355.9 399.3,1351.5 484.2,1347.9 569.1,1351.3 654.0,1337.1 738.9,1330.1 823.8,1322.2 908.7,1321.6 993.6,1321.6 1078.5,1306.4 1163.4,1292.8 1248.3,1276.6 1333.2,1273.3 1418.1,1226.3 1503.0,1222.0 1587.9,1232.9 1672.8,1220.8 1770.0,1237.6"/>
<polyline points="64.0,1329.5 76.0,1320.5 104.5,1311.5 174.0,1327.9 229.5,1303.5 314.4,1275.3 399.3,1289.5 484.2,1290.0 569.1,1285.1 654.0,1280.4 738.9,1273.1 823.8,1283.5 908.7,1277.6 993.6,1256.1 1078.5,1238.9 1163.4,1241.2 1248.3,1233.5 1333.2,1226.5 1418.1,1223.2 1503.0,1216.0 1587.9,1231.4 1672.8,1221.6 1770.0,1215.5"/>
<polyline points="64.0,1338.4 76.0,1331.0 104.5,1314.7 174.0,1314.3 229.5,1301.9 314.4,1292.1 399.3,1304.4 484.2,1294.7 569.1,1290.6 654.0,1278.4 738.9,1256.1 823.8,1245.6 908.7,1253.1 993.6,1254.8 1078.5,1228.2 1163.4,1206.8 1248.3,1173.8 1333.2,1159.9 1418.1,1149.4 1503.0,1152.7 1587.9,1130.0 1672.8,1118.4 1770.0,1101.0"/>
<polyline points="64.0,1311.4 76.0,1310.1 104.5,1294.4 174.0,1282.2 229.5,1280.8 314.4,1293.2 399.3,1283.3 484.2,1280.9 569.1,1257.5 654.0,1249.8 738.9,1242.7 823.8,1228.8 908.7,1218.5 993.6,1211.1 1078.5,1212.2 1163.4,1203.7 1248.3,1194.0 1333.2,1183.9 1418.1,1172.2 1503.0,1193.2 1587.9,1183.7 1672.8,1125.7 1770.0,1107.7"/>
<polyline points="64.0,1342.6 76.0,1349.6 104.5,1345.9 174.0,1343.0 229.5,1336.8 314.4,1304.2 399.3,1307.6 484.2,1295.3 569.1,1278.6 654.0,1292.1 738.9,1296.9 823.8,1300.3 908.7,1296.2 993.6,1269.2 1078.5,1265.2 1163.4,1249.8 1248.3,1244.6 1333.2,1248.3 1418.1,1217.1 1503.0,1216.8 1587.9,1197.3 1672.8,1186.4 1770.0,1181.3"/>
<polyline points="64.0,1327.6 76.0,1328.3 104.5,1328.5 174.0,1334.4 229.5,1335.8 314.4,1338.6 399.3,1345.3 484.2,1339.0 569.1,1325.3 654.0,1327.9 738.9,1326.8 823.8,1318.5 908.7,1322.0 993.6,1330.1 1078.5,1336.5 1163.4,1322.6 1248.3,1316.9 1333.2,1303.5 1418.1,1306.1 1503.0,1291.7 1587.9,1291.6 1672.8,1280.1 1770.0,1252.0"/>
<polyline points="64.0,1317.6 76.0,1312.3 104.5,1298.1 174.0,1285.2 229.5,1278.8 314.4,1271.6 399.3,1263.9 484.2,1257.8 569.1,1252.6 654.0,1239.2 738.9,1225.3 823.8,1201.8 908.7,1179.2 993.6,1169.0 1078.5,1166.8 1163.4,1142.4 1248.3,1129.6 1333.2,1105.4 1418.1,1072.1 1503.0,1068.5 1587.9,1052.4 1672.8,1064.6 1770.0,1081.4"/>
<polyline points="64.0,1338.2 76.0,1340.3 104.5,1328.8 174.0,1329.8 229.5,1323.6 314.4,1327.2 399.3,1330.9 484.2,1331.9 569.1,1324.6 654.0,1330.4 738.9,1326.7 823.8,1322.3 908.7,1325.1 993.6,1324.6 1078.5,1323.3 1163.4,1312.0 1248.3,1304.3 1333.2,1303.4 1418.1,1298.4 1503.0,1303.6 1587.9,1303.4 1672.8,1305.9 1770.0,1307.1"/>
<polyline points="64.0,1358.9 76.0,1356.8 104.5,1334.0 174.0,1336.0 229.5,1324.2 314.4,1337.1 399.3,1342.7 484.2,1334.6 569.1,1339.5 654.0,1342.9 738.9,1336.1 823.8,1339.3 908.7,1338.4 993.6,1335.1 1078.5,1336.3 1163.4,1325.0 1248.3,1317.6 1333.2,1313.9 1418.1,1308.7 1503.0,1303.8 1587.9,1303.5 1672.8,1300.0 1770.0,1283.6"/>
<polyline points="64.0,1327.9 76.0,1327.1 104.5,1321.4 174.0,1310.9 229.5,1326.9 314.4,1334.2 399.3,1326.6 484.2,1323.5 569.1,1323.3 654.0,1323.1 738.9,1306.1 823.8,1295.6 908.7,1313.5 993.6,1318.0 1078.5,1315.9 1163.4,1306.4 1248.3,1297.4 1333.2,1301.6 1418.1,1299.4 1503.0,1294.7 1587.9,1300.3 1672.8,1293.8 1770.0,1284.3"/>
<polyline points="64.0,1316.1 76.0,1322.3 104.5,1296.7 174.0,1281.7 229.5,1276.1 314.4,1271.4 399.3,1268.2 484.2,1262.9 569.1,1256.4 654.0,1243.7 738.9,1233.8 823.8,1231.3 908.7,1215.0 993.6,1220.4 1078.5,1209.6 1163.4,1187.2 1248.3,1175.2 1333.2,1154.6 1418.1,1148.2 1503.0,1139.5 1587.9,1114.4 1672.8,1100.0 1770.0,1097.4"/>
<polyline points="64.0,1355.6 76.0,1352.0 104.5,1350.6 174.0,1349.5 229.5,1345.1 314.4,1335.8 399.3,1341.3 484.2,1338.3 569.1,1351.1 654.0,1338.9 738.9,1333.9 823.8,1326.3 908.7,1330.5 993.6,1324.2 1078.5,1312.6 1163.4,1292.3 1248.3,1265.8 1333.2,1280.5 1418.1,1271.0 1503.0,1278.4 1587.9,1274.6 1672.8,1250.9 1770.0,1217.8"/>
<polyline points="64.0,1350.7 76.0,1349.5 104.5,1347.9 174.0,1349.4 229.5,1346.4 314.4,1343.5 399.3,1347.8 484.2,1341.4 569.1,1332.3 654.0,1337.8 738.9,1331.8 823.8,1331.0 908.7,1320.9 993.6,1313.3 1078.5,1305.4 1163.4,1296.4 1248.3,1268.0 1333.2,1267.2 1418.1,1251.7 1503.0,1245.7 1587.9,1251.6 1672.8,1263.8 1770.0,1256.2"/>
<polyline points="64.0,1353.2 76.0,1353.2 104.5,1334.7 174.0,1325.4 229.5,1329.2 314.4,1303.8 399.3,1316.2 484.2,1308.5 569.1,1296.9 654.0,1299.4 738.9,1290.2 823.8,1299.6 908.7,1287.9 993.6,1264.1 1078.5,1237.5 1163.4,1222.5 1248.3,1230.9 1333.2,1226.1 1418.1,1232.3 1503.0,1223.2 1587.9,1237.2 1672.8,1234.1 1770.0,1219.2"/>
<polyline points="64.0,1344.2 76.0,1340.4 104.5,1325.2 174.0,1339.2 229.5,1336.8 314.4,1341.3 399.3,1343.0 484.2,1335.1 569.1,1329.2 654.0,1327.5 738.9,1333.3 823.8,1314.6 908.7,1309.1 993.6,1299.2 1078.5,1291.1 1163.4,1281.4 1248.3,1265.8 1333.2,1252.9 1418.1,1238.1 1503.0,1219.1 1587.9,1200.0 1672.8,1178.3 1770.0,1158.7"/>
<polyline points="64.0,1311.9 76.0,1309.6 104.5,1297.0 174.0,1282.4 229.5,1276.6 314.4,1267.5 399.3,1261.3 484.2,1256.0 569.1,1246.8 654.0,1240.1 738.9,1221.0 823.8,1211.3 908.7,1201.8 993.6,1189.6 1078.5,1180.6 1163.4,1168.0 1248.3,1134.6 1333.2,1090.5 1418.1,1062.4 1503.0,995.1 1587.9,975.7 1672.8,954.1 1770.0,938.8"/>
<polyline points="64.0,1313.5 76.0,1317.0 104.5,1299.1 174.0,1292.7 229.5,1291.2 314.4,1294.3 399.3,1295.0 484.2,1276.3 569.1,1287.4 654.0,1284.5 738.9,1284.2 823.8,1280.1 908.7,1283.9 993.6,1263.8 1078.5,1249.1 1163.4,1217.1 1248.3,1193.6 1333.2,1194.1 1418.1,1146.6 1503.0,1139.2 1587.9,1140.2 1672.8,1130.6 1770.0,1107.8"/>
<polyline points="64.0,1329.2 76.0,1326.0 104.5,1310.6 174.0,1314.7 229.5,1307.9 314.4,1305.4 399.3,1323.6 484.2,1307.9 569.1,1298.2 654.0,1300.0 738.9,1303.2 823.8,1287.1 908.7,1270.8 993.6,1280.0 1078.5,1281.5 1163.4,1209.1 1248.3,1186.7 1333.2,1155.2 1418.1,1137.2 1503.0,1131.9 1587.9,1129.2 1672.8,1137.7 1770.0,1141.1"/>
<polyline points="64.0,1323.4 76.0,1326.4 104.5,1310.3 174.0,1302.8 229.5,1298.0 314.4,1295.6 399.3,1301.6 484.2,1264.5 569.1,1265.7 654.0,1265.9 738.9,1243.3 823.8,1230.0 908.7,1219.8 993.6,1211.3 1078.5,1205.3 1163.4,1188.7 1248.3,1165.5 1333.2,1158.3 1418.1,1135.0 1503.0,1131.9 1587.9,1108.3 1672.8,1098.3 1770.0,1097.6"/>
<polyline points="64.0,1320.4 76.0,1319.4 104.5,1319.4 174.0,1311.6 229.5,1324.1 314.4,1319.8 399.3,1317.7 484.2,1275.5 569.1,1282.6 654.0,1262.0 738.9,1276.4 823.8,1275.1 908.7,1268.9 993.6,1279.3 1078.5,1293.7 1163.4,1279.0 1248.3,1265.6 1333.2,1263.0 1418.1,1271.6 1503.0,1275.5 1587.9,1257.8 1672.8,1259.1 1770.0,1271.5"/>
<polyline points="64.0,1321.1 76.0,1324.5 104.5,1304.8 174.0,1286.6 229.5,1280.4 314.4,1274.5 399.3,1266.6 484.2,1261.1 569.1,1262.1 654.0,1249.1 738.9,1250.1 823.8,1230.0 908.7,1221.1 993.6,1209.2 1078.5,1199.6 1163.4,1196.1 1248.3,1188.1 1333.2,1179.2 1418.1,1156.8 1503.0,1131.7 1587.9,1116.3 1672.8,1122.3 1770.0,1102.3"/>
<polyline points="64.0,1310.1 76.0,1308.8 104.5,1294.9 174.0,1283.5 229.5,1277.5 314.4,1271.7 399.3,1266.4 484.2,1259.6 569.1,1252.2 654.0,1245.2 738.9,1245.0 823.8,1231.0 908.7,1212.3 993.6,1200.2 1078.5,1194.0 1163.4,1179.1 1248.3,1162.0 1333.2,1143.6 1418.1,1122.9 1503.0,1109.3 1587.9,1058.2 1672.8,1050.9 1770.0,1047.5"/>
<polyline points="64.0,1309.8 76.0,1309.8 104.5,1298.2 174.0,1286.9 229.5,1284.6 314.4,1284.6 399.3,1290.8 484.2,1295.4 569.1,1310.4 654.0,1299.9 738.9,1293.7 823.8,1282.9 908.7,1277.9 993.6,1285.4 1078.5,1285.4 1163.4,1262.0 1248.3,1309.4 1333.2,1299.4 1418.1,1290.6 1503.0,1284.0 1587.9,1280.1 1672.8,1277.6 1770.0,1281.5"/>
<polyline points="64.0,1323.4 76.0,1322.8 104.5,1333.7 174.0,1317.2 229.5,1304.4 314.4,1332.1 399.3,1331.9 484.2,1335.3 569.1,1320.1 654.0,1322.8 738.9,1301.5 823.8,1294.9 908.7,1300.4 993.6,1294.2 1078.5,1283.0 1163.4,1258.9 1248.3,1244.7 1333.2,1213.6 1418.1,1202.2 1503.0,1173.3 1587.9,1159.8 1672.8,1136.9 1770.0,1140.2"/>
<polyline points="64.0,1340.4 76.0,1336.8 104.5,1346.7 174.0,1338.8 229.5,1337.6 314.4,1339.2 399.3,1344.9 484.2,1339.5 569.1,1335.4 654.0,1325.5 738.9,1315.7 823.8,1317.4 908.7,1302.0 993.6,1319.1 1078.5,1319.1 1163.4,1308.7 1248.3,1319.4 1333.2,1315.3 1418.1,1318.8 1503.0,1318.6 1587.9,1305.9 1672.8,1272.5 1770.0,1263.3"/>
<polyline points="64.0,1313.1 76.0,1311.8 104.5,1303.5 174.0,1332.0 229.5,1320.5 314.4,1304.5 399.3,1306.4 484.2,1307.1 569.1,1310.4 654.0,1311.3 738.9,1301.9 823.8,1295.7 908.7,1285.1 993.6,1297.3 1078.5,1271.6 1163.4,1246.1 1248.3,1214.8 1333.2,1186.3 1418.1,1154.5 1503.0,1160.6 1587.9,1125.5 1672.8,1120.0 1770.0,1108.2"/>
<polyline points="64.0,1347.7 76.0,1348.4 104.5,1343.0 174.0,1329.9 229.5,1324.0 314.4,1323.1 399.3,1320.0 484.2,1307.9 569.1,1316.5 654.0,1302.7 738.9,1301.6 823.8,1277.0 908.7,1277.9 993.6,1265.1 1078.5,1261.3 1163.4,1301.0 1248.3,1297.4 1333.2,1302.8 1418.1,1320.3 1503.0,1317.0 1587.9,1308.2 1672.8,1311.0 1770.0,1306.4"/>
<polyline points="64.0,1347.9 76.0,1347.4 104.5,1345.8 174.0,1351.7 229.5,1342.8 314.4,1339.2 399.3,1328.9 484.2,1330.5 569.1,1324.6 654.0,1310.3 738.9,1326.2 823.8,1326.6 908.7,1326.4 993.6,1324.1 1078.5,1310.8 1163.4,1302.2 1248.3,1288.9 1333.2,1284.5 1418.1,1274.5 1503.0,1266.2 1587.9,1262.5 1672.8,1259.1 1770.0,1227.5"/>
<polyline points="64.0,1354.4 76.0,1352.1 104.5,1319.1 174.0,1303.2 229.5,1295.9 314.4,1285.1 399.3,1276.7 484.2,1269.7 569.1,1275.9 654.0,1269.7 738.9,1248.6 823.8,1237.7 908.7,1219.9 993.6,1220.8 1078.5,1213.5 1163.4,1205.6 1248.3,1208.3 1333.2,1207.8 1418.1,1195.0 1503.0,1172.7 1587.9,1165.1 1672.8,1122.7 1770.0,1115.3"/>
<polyline points="64.0,1329.8 76.0,1322.7 104.5,1328.3 174.0,1305.8 229.5,1289.4 314.4,1283.3 399.3,1269.5 484.2,1274.7 569.1,1285.4 654.0,1293.5 738.9,1281.6 823.8,1263.3 908.7,1247.7 993.6,1244.2 1078.5,1205.9 1163.4,1192.5 1248.3,1175.0 1333.2,1151.7 1418.1,1127.6 1503.0,1122.5 1587.9,1119.3 1672.8,1116.5 1770.0,1117.6"/>
<polyline points="64.0,1310.5 76.0,1309.5 104.5,1326.0 174.0,1359.1 229.5,1355.4 314.4,1348.9 399.3,1346.0 484.2,1345.8 569.1,1334.9 654.0,1330.1 738.9,1327.1 823.8,1320.1 908.7,1309.4 993.6,1295.7 1078.5,1291.5 1163.4,1290.9 1248.3,1275.2 1333.2,1275.3 1418.1,1270.5 1503.0,1270.4 1587.9,1269.8 1672.8,1278.4 1770.0,1254.7"/>
<polyline points="64.0,1321.0 76.0,1319.0 104.5,1314.3 174.0,1295.2 229.5,1294.9 314.4,1271.8 399.3,1270.0 484.2,1263.5 569.1,1259.3 654.0,1258.5 738.9,1265.4 823.8,1286.9 908.7,1269.8 993.6,1254.6 1078.5,1253.6 1163.4,1257.5 1248.3,1267.3 1333.2,1277.7 1418.1,1272.2 1503.0,1258.5 1587.9,1250.8 1672.8,1236.1 1770.0,1221.5"/>
<polyline points="64.0,1353.7 76.0,1349.2 104.5,1349.5 174.0,1343.6 229.5,1330.3 314.4,1314.5 399.3,1326.3 484.2,1335.1 569.1,1333.9 654.0,1340.0 738.9,1338.8 823.8,1322.3 908.7,1312.8 993.6,1305.9 1078.5,1298.5 1163.4,1275.9 1248.3,1276.6 1333.2,1273.6 1418.1,1271.1 1503.0,1278.9 1587.9,1285.4 1672.8,1269.8 1770.0,1265.7"/>
<polyline points="64.0,1352.5 76.0,1351.3 104.5,1329.5 174.0,1341.2 229.5,1338.6 314.4,1339.5 399.3,1324.1 484.2,1336.0 569.1,1334.9 654.0,1325.9 738.9,1309.8 823.8,1299.7 908.7,1299.4 993.6,1274.4 1078.5,1298.5 1163.4,1295.3 1248.3,1291.9 1333.2,1283.1 1418.1,1273.2 1503.0,1252.5 1587.9,1252.7 1672.8,1224.9 1770.0,1203.7"/>
<polyline points="64.0,1347.9 76.0,1347.6 104.5,1343.6 174.0,1319.7 229.5,1320.2 314.4,1302.8 399.3,1287.2 484.2,1291.3 569.1,1274.4 654.0,1262.0 738.9,1258.2 823.8,1247.7 908.7,1222.3 993.6,1207.2 1078.5,1206.6 1163.4,1209.8 1248.3,1177.6 1333.2,1156.7 1418.1,1135.3 1503.0,1117.9 1587.9,1105.7 1672.8,1114.3 1770.0,1106.5"/>
<polyline points="64.0,1334.4 76.0,1332.2 104.5,1323.4 174.0,1335.3 229.5,1317.9 314.4,1324.0 399.3,1317.5 484.2,1305.4 569.1,1300.6 654.0,1277.8 738.9,1276.9 823.8,1289.9 908.7,1307.6 993.6,1308.8 1078.5,1306.2 1163.4,1263.6 1248.3,1233.3 1333.2,1217.5 1418.1,1200.3 1503.0,1198.4 1587.9,1195.8 1672.8,1185.6 1770.0,1186.3"/>
<polyline points="64.0,1325.8 76.0,1323.3 104.5,1319.0 174.0,1311.0 229.5,1303.8 314.4,1300.0 399.3,1304.7 484.2,1303.3 569.1,1299.7 654.0,1251.6 738.9,1243.6 823.8,1223.5 908.7,1208.6 993.6,1196.9 1078.5,1191.0 1163.4,1167.1 1248.3,1163.7 1333.2,1148.8 1418.1,1150.4 1503.0,1138.8 1587.9,1117.7 1672.8,1108.7 1770.0,1078.8"/>
<polyline points="64.0,1328.6 76.0,1335.4 104.5,1297.1 174.0,1286.1 229.5,1279.1 314.4,1274.7 399.3,1269.1 484.2,1264.9 569.1,1274.5 654.0,1264.7 738.9,1261.4 823.8,1249.2 908.7,1251.8 993.6,1237.4 1078.5,1232.6 1163.4,1245.8 1248.3,1222.4 1333.2,1219.4 1418.1,1234.8 1503.0,1220.5 1587.9,1224.1 1672.8,1235.3 1770.0,1223.9"/>
<polyline points="64.0,1320.8 76.0,1316.4 104.5,1299.5 174.0,1295.6 229.5,1279.1 314.4,1275.4 399.3,1298.9 484.2,1286.6 569.1,1266.8 654.0,1268.4 738.9,1266.8 823.8,1250.4 908.7,1235.9 993.6,1220.0 1078.5,1227.1 1163.4,1215.5 1248.3,1193.5 1333.2,1211.1 1418.1,1194.8 1503.0,1153.1 1587.9,1159.1 1672.8,1172.0 1770.0,1181.3"/>
<polyline points="64.0,1332.8 76.0,1335.4 104.5,1338.4 174.0,1317.4 229.5,1323.8 314.4,1325.2 399.3,1318.7 484.2,1309.8 569.1,1287.4 654.0,1274.3 738.9,1271.2 823.8,1250.3 908.7,1235.1 993.6,1220.3 1078.5,1220.0 1163.4,1198.4 1248.3,1173.6 1333.2,1154.0 1418.1,1138.9 1503.0,1138.8 1587.9,1121.8 1672.8,1103.5 1770.0,1104.1"/>
<polyline points="64.0,1345.5 76.0,1346.5 104.5,1349.3 174.0,1349.5 229.5,1344.9 314.4,1341.4 399.3,1329.5 484.2,1318.1 569.1,1321.1 654.0,1322.9 738.9,1312.7 823.8,1299.1 908.7,1309.4 993.6,1308.5 1078.5,1285.4 1163.4,1298.9 1248.3,1297.3 1333.2,1302.3 1418.1,1288.1 1503.0,1272.7 1587.9,1259.8 1672.8,1262.6 1770.0,1254.4"/>
<polyline points="64.0,1309.2 76.0,1308.6 104.5,1295.4 174.0,1285.4 229.5,1275.6 314.4,1269.8 399.3,1264.9 484.2,1252.8 569.1,1249.3 654.0,1239.6 738.9,1231.0 823.8,1218.2 908.7,1208.3 993.6,1200.9 1078.5,1182.4 1163.4,1164.0 1248.3,1153.7 1333.2,1139.8 1418.1,1114.3 1503.0,1109.5 1587.9,1105.0 1672.8,1092.0 1770.0,1098.7"/>
<polyline points="64.0,1345.2 76.0,1346.1 104.5,1340.6 174.0,1353.2 229.5,1346.9 314.4,1347.1 399.3,1359.9 484.2,1357.1 569.1,1352.9 654.0,1355.8 738.9,1354.2 823.8,1350.4 908.7,1348.0 993.6,1344.4 1078.5,1323.0 1163.4,1312.0 1248.3,1298.5 1333.2,1280.0 1418.1,1278.4 1503.0,1279.5 1587.9,1281.7 1672.8,1269.9 1770.0,1272.8"/>
<polyline points="64.0,1327.4 76.0,1319.2 104.5,1314.5 174.0,1327.1 229.5,1321.8 314.4,1314.2 399.3,1312.4 484.2,1332.0 569.1,1320.6 654.0,1330.6 738.9,1326.9 823.8,1315.5 908.7,1319.3 993.6,1322.1 1078.5,1319.8 1163.4,1307.4 1248.3,1294.5 1333.2,1294.5 1418.1,1292.9 1503.0,1289.6 1587.9,1282.5 1672.8,1299.1 1770.0,1293.0"/>
<polyline points="64.0,1353.6 76.0,1354.9 104.5,1355.8 174.0,1353.0 229.5,1347.7 314.4,1344.7 399.3,1345.1 484.2,1346.4 569.1,1341.2 654.0,1333.6 738.9,1332.1 823.8,1326.6 908.7,1309.1 993.6,1304.8 1078.5,1285.6 1163.4,1272.0 1248.3,1256.4 1333.2,1221.6 1418.1,1189.8 1503.0,1192.1 1587.9,1173.0 1672.8,1192.3 1770.0,1177.3"/>
<polyline points="64.0,1361.8 76.0,1360.6 104.5,1364.5 174.0,1362.2 229.5,1356.3 314.4,1350.1 399.3,1350.7 484.2,1342.5 569.1,1339.3 654.0,1336.0 738.9,1336.0 823.8,1332.6 908.7,1319.4 993.6,1325.0 1078.5,1320.4 1163.4,1311.1 1248.3,1313.9 1333.2,1311.8 1418.1,1297.3 1503.0,1291.5 1587.9,1285.4 1672.8,1290.1 1770.0,1281.7"/>
<polyline points="64.0,1327.8 76.0,1326.1 104.5,1330.9 174.0,1315.2 229.5,1305.7 314.4,1303.6 399.3,1292.0 484.2,1298.1 569.1,1293.3 654.0,1291.6 738.9,1287.5 823.8,1301.8 908.7,1310.9 993.6,1305.5 1078.5,1308.3 1163.4,1299.5 1248.3,1292.8 1333.2,1284.6 1418.1,1272.6 1503.0,1271.2 1587.9,1247.5 1672.8,1237.7 1770.0,1235.1"/>
<polyline points="64.0,1317.3 76.0,1315.0 104.5,1307.2 174.0,1314.0 229.5,1313.1 314.4,1314.8 399.3,1316.7 484.2,1310.7 569.1,1312.6 654.0,1298.1 738.9,1282.6 823.8,1293.9 908.7,1245.2 993.6,1232.5 1078.5,1217.1 1163.4,1189.8 1248.3,1187.3 1333.2,1172.0 1418.1,1173.9 1503.0,1134.5 1587.9,1140.9 1672.8,1115.6 1770.0,1092.5"/>
<polyline points="64.0,1328.6 76.0,1324.4 104.5,1301.5 174.0,1298.3 229.5,1286.4 314.4,1284.0 399.3,1283.0 484.2,1279.3 569.1,1258.5 654.0,1258.6 738.9,1251.2 823.8,1231.9 908.7,1214.5 993.6,1198.3 1078.5,1194.0 1163.4,1190.5 1248.3,1174.7 1333.2,1171.7 1418.1,1179.4 1503.0,1174.7 1587.9,1190.4 1672.8,1209.2 1770.0,1210.1"/>
<polyline points="64.0,1308.8 76.0,1307.9 104.5,1292.6 174.0,1275.6 229.5,1266.3 314.4,1259.3 399.3,1253.3 484.2,1239.9 569.1,1223.4 654.0,1211.3 738.9,1197.1 823.8,1170.7 908.7,1156.1 993.6,1146.5 1078.5,1152.7 1163.4,1113.4 1248.3,1089.2 1333.2,1066.1 1418.1,1018.5 1503.0,996.5 1587.9,984.0 1672.8,972.5 1770.0,957.4"/>
<polyline points="64.0,1331.4 76.0,1335.0 104.5,1310.0 174.0,1286.0 229.5,1281.0 314.4,1287.6 399.3,1269.5 484.2,1281.4 569.1,1272.2 654.0,1263.1 738.9,1263.1 823.8,1251.8 908.7,1228.9 993.6,1227.4 1078.5,1216.6 1163.4,1211.3 1248.3,1200.2 1333.2,1197.0 1418.1,1207.2 1503.0,1182.3 1587.9,1184.3 1672.8,1171.5 1770.0,1172.2"/>
<polyline points="64.0,1352.7 76.0,1351.6 104.5,1346.2 174.0,1344.6 229.5,1347.3 314.4,1341.0 399.3,1339.9 484.2,1333.5 569.1,1326.2 654.0,1318.8 738.9,1311.1 823.8,1317.4 908.7,1299.9 993.6,1277.3 1078.5,1270.9 1163.4,1296.0 1248.3,1293.9 1333.2,1278.4 1418.1,1269.8 1503.0,1287.7 1587.9,1264.8 1672.8,1251.4 1770.0,1243.7"/>
<polyline points="64.0,1313.0 76.0,1311.5 104.5,1317.9 174.0,1323.8 229.5,1316.5 314.4,1281.1 399.3,1269.8 484.2,1260.9 569.1,1252.9 654.0,1243.7 738.9,1233.0 823.8,1218.3 908.7,1209.1 993.6,1200.8 1078.5,1192.5 1163.4,1185.0 1248.3,1176.1 1333.2,1167.5 1418.1,1151.6 1503.0,1155.1 1587.9,1140.0 1672.8,1138.4 1770.0,1139.0"/>
<polyline points="64.0,1350.9 76.0,1350.9 104.5,1354.1 174.0,1349.8 229.5,1344.2 314.4,1337.8 399.3,1335.4 484.2,1328.1 569.1,1326.1 654.0,1333.0 738.9,1326.5 823.8,1322.9 908.7,1321.1 993.6,1314.6 1078.5,1289.1 1163.4,1287.2 1248.3,1285.8 1333.2,1293.9 1418.1,1283.4 1503.0,1272.0 1587.9,1277.5 1672.8,1270.5 1770.0,1266.1"/>
<polyline points="64.0,1336.4 76.0,1334.3 104.5,1340.0 174.0,1347.2 229.5,1346.3 314.4,1335.5 399.3,1341.4 484.2,1335.8 569.1,1327.6 654.0,1320.1 738.9,1312.6 823.8,1318.5 908.7,1313.0 993.6,1284.4 1078.5,1283.2 1163.4,1273.1 1248.3,1248.9 1333.2,1224.4 1418.1,1203.5 1503.0,1194.9 1587.9,1189.9 1672.8,1231.9 1770.0,1233.9"/>
<polyline points="64.0,1328.0 76.0,1328.5 104.5,1330.5 174.0,1300.6 229.5,1294.0 314.4,1285.3 399.3,1284.3 484.2,1280.9 569.1,1275.2 654.0,1268.1 738.9,1269.0 823.8,1259.4 908.7,1247.4 993.6,1270.6 1078.5,1275.3 1163.4,1257.4 1248.3,1249.1 1333.2,1225.5 1418.1,1191.6 1503.0,1191.6 1587.9,1181.3 1672.8,1176.7 1770.0,1172.0"/>
<polyline points="64.0,1357.7 76.0,1351.0 104.5,1344.0 174.0,1324.4 229.5,1312.6 314.4,1312.0 399.3,1309.2 484.2,1309.8 569.1,1308.4 654.0,1311.9 738.9,1306.2 823.8,1319.8 908.7,1313.8 993.6,1298.3 1078.5,1303.8 1163.4,1301.9 1248.3,1290.7 1333.2,1285.4 1418.1,1272.3 1503.0,1267.5 1587.9,1275.3 1672.8,1279.3 1770.0,1268.3"/>
<polyline points="64.0,1321.4 76.0,1321.4 104.5,1331.2 174.0,1307.8 229.5,1306.0 314.4,1295.1 399.3,1282.1 484.2,1299.0 569.1,1305.3 654.0,1299.0 738.9,1294.1 823.8,1301.3 908.7,1289.4 993.6,1271.0 1078.5,1237.7 1163.4,1231.4 1248.3,1206.8 1333.2,1204.0 1418.1,1191.6 1503.0,1188.0 1587.9,1182.0 1672.8,1142.1 1770.0,1145.0"/>
<polyline points="64.0,1313.6 76.0,1312.8 104.5,1297.2 174.0,1285.0 229.5,1280.0 314.4,1285.5 399.3,1282.1 484.2,1278.2 569.1,1272.1 654.0,1262.7 738.9,1260.6 823.8,1321.8 908.7,1325.6 993.6,1326.9 1078.5,1329.1 1163.4,1308.7 1248.3,1298.3 1333.2,1284.5 1418.1,1281.6 1503.0,1275.8 1587.9,1264.7 1672.8,1262.8 1770.0,1252.4"/>
<polyline points="64.0,1332.9 76.0,1335.1 104.5,1308.8 174.0,1332.3 229.5,1314.9 314.4,1296.7 399.3,1294.6 484.2,1287.8 569.1,1286.8 654.0,1284.3 738.9,1272.0 823.8,1261.0 908.7,1248.0 993.6,1253.0 1078.5,1249.9 1163.4,1186.8 1248.3,1174.1 1333.2,1169.4 1418.1,1156.7 1503.0,1195.5 1587.9,1189.3 1672.8,1182.0 1770.0,1184.2"/>
<polyline points="64.0,1360.4 76.0,1362.5 104.5,1363.8 174.0,1365.5 229.5,1363.0 314.4,1359.5 399.3,1355.5 484.2,1352.7 569.1,1350.5 654.0,1339.8 738.9,1333.2 823.8,1325.1 908.7,1323.0 993.6,1317.2 1078.5,1319.7 1163.4,1306.4 1248.3,1292.3 1333.2,1304.6 1418.1,1301.0 1503.0,1288.6 1587.9,1283.1 1672.8,1280.6 1770.0,1259.7"/>
<polyline points="64.0,1355.6 76.0,1355.8 104.5,1323.4 174.0,1338.5 229.5,1340.5 314.4,1337.9 399.3,1337.4 484.2,1332.4 569.1,1334.5 654.0,1330.8 738.9,1327.3 823.8,1322.1 908.7,1316.9 993.6,1314.2 1078.5,1307.1 1163.4,1267.9 1248.3,1255.2 1333.2,1253.3 1418.1,1252.7 1503.0,1222.6 1587.9,1225.0 1672.8,1222.6 1770.0,1219.9"/>
<polyline points="64.0,1336.6 76.0,1332.5 104.5,1333.6 174.0,1326.2 229.5,1321.6 314.4,1334.5 399.3,1298.0 484.2,1297.7 569.1,1269.7 654.0,1252.2 738.9,1251.6 823.8,1245.6 908.7,1221.3 993.6,1216.6 1078.5,1206.2 1163.4,1201.8 1248.3,1188.9 1333.2,1170.1 1418.1,1149.4 1503.0,1137.5 1587.9,1140.3 1672.8,1117.8 1770.0,1129.3"/>
<polyline points="64.0,1326.9 76.0,1327.3 104.5,1317.4 174.0,1323.8 229.5,1323.5 314.4,1334.9 399.3,1325.7 484.2,1312.1 569.1,1294.0 654.0,1299.1 738.9,1294.4 823.8,1264.8 908.7,1257.1 993.6,1247.1 1078.5,1226.2 1163.4,1227.7 1248.3,1226.2 1333.2,1218.5 1418.1,1191.6 1503.0,1171.6 1587.9,1151.9 1672.8,1196.6 1770.0,1205.2"/>
<polyline points="64.0,1347.5 76.0,1349.9 104.5,1327.4 174.0,1316.0 229.5,1300.1 314.4,1275.6 399.3,1272.9 484.2,1266.8 569.1,1291.6 654.0,1285.8 738.9,1262.3 823.8,1254.8 908.7,1218.6 993.6,1216.1 1078.5,1200.6 1163.4,1184.1 1248.3,1170.6 1333.2,1158.1 1418.1,1157.9 1503.0,1178.6 1587.9,1170.4 1672.8,1171.8 1770.0,1178.1"/>
<polyline points="64.0,1348.9 76.0,1348.1 104.5,1353.3 174.0,1354.0 229.5,1351.2 314.4,1339.6 399.3,1334.3 484.2,1332.4 569.1,1328.0 654.0,1321.0 738.9,1282.4 823.8,1265.2 908.7,1247.2 993.6,1239.6 1078.5,1218.7 1163.4,1222.1 1248.3,1204.2 1333.2,1178.2 1418.1,1179.1 1503.0,1193.2 1587.9,1190.3 1672.8,1181.7 1770.0,1172.4"/>
<polyline points="64.0,1312.4 76.0,1310.3 104.5,1303.7 174.0,1298.2 229.5,1279.4 314.4,1274.1 399.3,1267.5 484.2,1264.5 569.1,1257.7 654.0,1258.3 738.9,1253.9 823.8,1230.0 908.7,1224.0 993.6,1204.9 1078.5,1202.2 1163.4,1199.0 1248.3,1202.6 1333.2,1203.0 1418.1,1183.1 1503.0,1199.3 1587.9,1192.2 1672.8,1186.8 1770.0,1193.7"/>
<polyline points="64.0,1318.5 76.0,1311.4 104.5,1306.5 174.0,1289.2 229.5,1287.2 314.4,1281.3 399.3,1288.8 484.2,1289.4 569.1,1296.5 654.0,1314.4 738.9,1306.3 823.8,1280.7 908.7,1264.2 993.6,1257.2 1078.5,1239.0 1163.4,1218.2 1248.3,1207.8 1333.2,1210.9 1418.1,1210.1 1503.0,1204.5 1587.9,1229.2 1672.8,1225.7 1770.0,1205.5"/>
<polyline points="64.0,1312.8 76.0,1311.6 104.5,1304.1 174.0,1334.3 229.5,1316.9 314.4,1307.4 399.3,1299.5 484.2,1294.5 569.1,1259.6 654.0,1264.8 738.9,1258.6 823.8,1264.3 908.7,1237.2 993.6,1238.7 1078.5,1235.6 1163.4,1215.9 1248.3,1227.3 1333.2,1236.6 1418.1,1232.2 1503.0,1217.7 1587.9,1211.7 1672.8,1246.3 1770.0,1262.5"/>
<polyline points="64.0,1337.6 76.0,1339.7 104.5,1344.6 174.0,1338.5 229.5,1340.7 314.4,1346.0 399.3,1345.8 484.2,1337.0 569.1,1336.7 654.0,1332.7 738.9,1339.2 823.8,1325.8 908.7,1328.4 993.6,1324.7 1078.5,1321.5 1163.4,1314.1 1248.3,1313.6 1333.2,1293.4 1418.1,1275.4 1503.0,1274.9 1587.9,1266.2 1672.8,1271.6 1770.0,1270.3"/>
<polyline points="64.0,1310.1 76.0,1309.1 104.5,1298.1 174.0,1286.5 229.5,1279.8 314.4,1275.3 399.3,1275.2 484.2,1267.5 569.1,1270.6 654.0,1265.4 738.9,1264.4 823.8,1233.1 908.7,1221.1 993.6,1205.7 1078.5,1189.0 1163.4,1166.2 1248.3,1157.6 1333.2,1138.1 1418.1,1125.8 1503.0,1112.8 1587.9,1100.6 1672.8,1094.5 1770.0,1084.3"/>
<polyline points="64.0,1348.4 76.0,1347.4 104.5,1343.0 174.0,1323.3 229.5,1327.6 314.4,1312.1 399.3,1301.5 484.2,1300.9 569.1,1284.1 654.0,1299.8 738.9,1286.3 823.8,1275.4 908.7,1263.4 993.6,1242.4 1078.5,1243.1 1163.4,1233.1 1248.3,1219.6 1333.2,1210.0 1418.1,1227.4 1503.0,1225.0 1587.9,1238.5 1672.8,1233.3 1770.0,1234.0"/>
<polyline points="64.0,1332.1 76.0,1328.5 104.5,1304.6 174.0,1291.4 229.5,1280.2 314.4,1275.4 399.3,1268.5 484.2,1262.2 569.1,1259.4 654.0,1252.0 738.9,1245.9 823.8,1233.0 908.7,1205.1 993.6,1199.9 1078.5,1198.9 1163.4,1185.2 1248.3,1188.3 1333.2,1166.1 1418.1,1141.5 1503.0,1131.2 1587.9,1124.3 1672.8,1105.8 1770.0,1042.3"/>
<polyline points="64.0,1350.2 76.0,1349.2 104.5,1323.9 174.0,1315.3 229.5,1315.7 314.4,1322.0 399.3,1309.0 484.2,1311.8 569.1,1304.7 654.0,1301.2 738.9,1299.4 823.8,1294.0 908.7,1282.4 993.6,1296.2 1078.5,1309.1 1163.4,1296.3 1248.3,1286.9 1333.2,1282.7 1418.1,1278.9 1503.0,1272.9 1587.9,1261.8 1672.8,1252.9 1770.0,1257.0"/>
<polyline points="64.0,1312.7 76.0,1312.2 104.5,1323.2 174.0,1306.1 229.5,1299.5 314.4,1295.7 399.3,1286.8 484.2,1278.9 569.1,1271.4 654.0,1259.1 738.9,1246.4 823.8,1236.3 908.7,1234.2 993.6,1240.5 1078.5,1224.4 1163.4,1193.0 1248.3,1175.9 1333.2,1176.6 1418.1,1149.3 1503.0,1118.4 1587.9,1095.1 1672.8,1090.0 1770.0,1079.5"/>
<polyline points="64.0,1348.5 76.0,1345.6 104.5,1345.4 174.0,1328.1 229.5,1302.6 314.4,1308.3 399.3,1306.9 484.2,1296.7 569.1,1296.3 654.0,1299.8 738.9,1288.7 823.8,1281.8 908.7,1267.0 993.6,1252.5 1078.5,1246.5 1163.4,1234.4 1248.3,1218.1 1333.2,1223.8 1418.1,1180.5 1503.0,1182.4 1587.9,1152.5 1672.8,1134.7 1770.0,1111.9"/>
<polyline points="64.0,1332.3 76.0,1331.2 104.5,1311.4 174.0,1304.2 229.5,1301.2 314.4,1290.1 399.3,1293.2 484.2,1279.6 569.1,1270.7 654.0,1274.5 738.9,1255.4 823.8,1254.3 908.7,1240.2 993.6,1214.1 1078.5,1206.5 1163.4,1193.3 1248.3,1193.8 1333.2,1191.6 1418.1,1154.2 1503.0,1145.2 1587.9,1122.3 1672.8,1122.4 1770.0,1107.3"/>
<polyline points="64.0,1333.9 76.0,1336.2 104.5,1338.9 174.0,1336.5 229.5,1326.4 314.4,1319.2 399.3,1315.3 484.2,1315.2 569.1,1301.8 654.0,1299.3 738.9,1291.8 823.8,1286.2 908.7,1269.2 993.6,1275.2 1078.5,1267.4 1163.4,1311.6 1248.3,1291.9 1333.2,1280.3 1418.1,1266.1 1503.0,1262.1 1587.9,1259.5 1672.8,1254.6 1770.0,1251.7"/>
<polyline points="64.0,1344.1 76.0,1346.6 104.5,1349.2 174.0,1335.3 229.5,1330.6 314.4,1333.2 399.3,1332.4 484.2,1319.2 569.1,1320.0 654.0,1313.6 738.9,1309.4 823.8,1301.2 908.7,1279.1 993.6,1283.3 1078.5,1282.0 1163.4,1272.1 1248.3,1250.5 1333.2,1236.4 1418.1,1214.6 1503.0,1195.8 1587.9,1187.8 1672.8,1164.8 1770.0,1146.8"/>
<polyline points="64.0,1328.4 76.0,1329.8 104.5,1310.6 174.0,1306.4 229.5,1290.3 314.4,1275.3 399.3,1267.9 484.2,1260.9 569.1,1257.3 654.0,1252.5 738.9,1245.8 823.8,1265.2 908.7,1265.9 993.6,1257.8 1078.5,1255.1 1163.4,1255.7 1248.3,1239.6 1333.2,1243.6 1418.1,1243.8 1503.0,1252.2 1587.9,1223.5 1672.8,1228.5 1770.0,1230.6"/>
<polyline points="64.0,1332.3 76.0,1328.3 104.5,1331.6 174.0,1348.5 229.5,1344.2 314.4,1329.6 399.3,1344.8 484.2,1340.9 569.1,1337.6 654.0,1333.5 738.9,1326.8 823.8,1318.0 908.7,1314.7 993.6,1317.0 1078.5,1307.8 1163.4,1266.2 1248.3,1256.7 1333.2,1261.4 1418.1,1252.9 1503.0,1256.4 1587.9,1245.5 1672.8,1247.9 1770.0,1247.8"/>
<polyline points="64.0,1319.8 76.0,1317.9 104.5,1297.5 174.0,1296.9 229.5,1281.6 314.4,1292.3 399.3,1288.5 484.2,1286.8 569.1,1286.9 654.0,1282.0 738.9,1281.6 823.8,1271.7 908.7,1256.3 993.6,1251.7 1078.5,1263.1 1163.4,1269.4 1248.3,1246.3 1333.2,1252.8 1418.1,1239.3 1503.0,1277.7 1587.9,1276.7 1672.8,1273.6 1770.0,1263.7"/>
<polyline points="64.0,1315.4 76.0,1312.5 104.5,1300.7 174.0,1279.8 229.5,1273.5 314.4,1268.0 399.3,1263.7 484.2,1258.6 569.1,1258.2 654.0,1249.6 738.9,1239.3 823.8,1228.2 908.7,1219.1 993.6,1222.0 1078.5,1199.5 1163.4,1188.7 1248.3,1175.3 1333.2,1159.5 1418.1,1141.3 1503.0,1150.0 1587.9,1130.6 1672.8,1141.2 1770.0,1114.1"/>
<polyline points="64.0,1328.5 76.0,1322.6 104.5,1300.5 174.0,1296.5 229.5,1299.5 314.4,1272.6 399.3,1268.0 484.2,1262.6 569.1,1255.0 654.0,1250.3 738.9,1243.5 823.8,1234.7 908.7,1218.7 993.6,1210.7 1078.5,1198.9 1163.4,1184.3 1248.3,1178.2 1333.2,1160.3 1418.1,1157.0 1503.0,1125.6 1587.9,1150.3 1672.8,1137.0 1770.0,1144.3"/>
<polyline points="64.0,1354.9 76.0,1354.1 104.5,1338.7 174.0,1334.2 229.5,1337.1 314.4,1335.0 399.3,1322.2 484.2,1307.3 569.1,1294.5 654.0,1284.2 738.9,1280.7 823.8,1276.0 908.7,1241.1 993.6,1243.2 1078.5,1242.7 1163.4,1248.8 1248.3,1218.9 1333.2,1194.3 1418.1,1169.5 1503.0,1167.3 1587.9,1155.9 1672.8,1132.6 1770.0,1114.1"/>
<polyline points="64.0,1341.4 76.0,1337.6 104.5,1327.5 174.0,1328.8 229.5,1332.9 314.4,1322.6 399.3,1334.3 484.2,1333.8 569.1,1331.5 654.0,1328.9 738.9,1316.5 823.8,1323.3 908.7,1321.3 993.6,1308.0 1078.5,1303.9 1163.4,1298.5 1248.3,1288.1 1333.2,1277.6 1418.1,1264.4 1503.0,1270.1 1587.9,1224.1 1672.8,1213.8 1770.0,1202.4"/>
<polyline points="64.0,1330.1 76.0,1333.0 104.5,1328.2 174.0,1337.7 229.5,1332.9 314.4,1316.5 399.3,1294.2 484.2,1288.0 569.1,1290.2 654.0,1280.5 738.9,1282.3 823.8,1292.4 908.7,1272.6 993.6,1258.9 1078.5,1244.3 1163.4,1227.6 1248.3,1216.5 1333.2,1188.7 1418.1,1145.4 1503.0,1137.0 1587.9,1117.9 1672.8,1112.5 1770.0,1108.7"/>
<polyline points="64.0,1330.1 76.0,1325.8 104.5,1309.7 174.0,1309.8 229.5,1307.1 314.4,1317.7 399.3,1326.9 484.2,1310.6 569.1,1307.1 654.0,1297.0 738.9,1314.0 823.8,1310.1 908.7,1345.6 993.6,1344.7 1078.5,1339.2 1163.4,1326.2 1248.3,1319.9 1333.2,1309.8 1418.1,1316.7 1503.0,1301.5 1587.9,1302.2 1672.8,1300.5 1770.0,1289.3"/>
<polyline points="64.0,1348.9 76.0,1345.1 104.5,1356.0 174.0,1361.2 229.5,1356.8 314.4,1354.6 399.3,1354.4 484.2,1341.0 569.1,1348.7 654.0,1343.6 738.9,1341.6 823.8,1341.0 908.7,1335.5 993.6,1332.3 1078.5,1341.1 1163.4,1331.6 1248.3,1327.1 1333.2,1317.2 1418.1,1294.0 1503.0,1290.9 1587.9,1282.8 1672.8,1275.5 1770.0,1266.7"/>
<polyline points="64.0,1330.8 76.0,1329.2 104.5,1331.8 174.0,1324.7 229.5,1320.0 314.4,1340.8 399.3,1348.2 484.2,1340.1 569.1,1343.2 654.0,1336.5 738.9,1334.2 823.8,1329.2 908.7,1320.3 993.6,1319.5 1078.5,1314.7 1163.4,1298.1 1248.3,1291.3 1333.2,1283.3 1418.1,1287.0 1503.0,1285.2 1587.9,1275.1 1672.8,1276.1 1770.0,1283.6"/>
<polyline points="64.0,1331.8 76.0,1324.6 104.5,1304.7 174.0,1290.1 229.5,1292.5 314.4,1290.0 399.3,1285.9 484.2,1289.8 569.1,1287.1 654.0,1295.5 738.9,1283.4 823.8,1290.0 908.7,1275.8 993.6,1265.9 1078.5,1260.1 1163.4,1269.6 1248.3,1255.2 1333.2,1243.5 1418.1,1216.4 1503.0,1229.4 1587.9,1223.1 1672.8,1207.5 1770.0,1216.8"/>
<polyline points="64.0,1312.3 76.0,1310.1 104.5,1313.6 174.0,1301.4 229.5,1294.6 314.4,1282.5 399.3,1269.2 484.2,1264.0 569.1,1258.3 654.0,1254.5 738.9,1249.1 823.8,1233.1 908.7,1217.4 993.6,1211.5 1078.5,1200.1 1163.4,1188.8 1248.3,1181.4 1333.2,1169.0 1418.1,1161.1 1503.0,1156.2 1587.9,1128.4 1672.8,1123.2 1770.0,1107.9"/>
<polyline points="64.0,1336.7 76.0,1336.0 104.5,1312.6 174.0,1298.4 229.5,1291.8 314.4,1297.0 399.3,1284.4 484.2,1283.7 569.1,1279.2 654.0,1263.2 738.9,1242.6 823.8,1230.7 908.7,1209.0 993.6,1206.8 1078.5,1200.4 1163.4,1189.9 1248.3,1186.0 1333.2,1191.4 1418.1,1194.5 1503.0,1194.0 1587.9,1186.9 1672.8,1182.0 1770.0,1172.3"/>
<polyline points="64.0,1312.9 76.0,1311.8 104.5,1293.6 174.0,1280.7 229.5,1274.3 314.4,1268.6 399.3,1261.3 484.2,1258.3 569.1,1250.0 654.0,1240.4 738.9,1228.0 823.8,1218.3 908.7,1203.4 993.6,1202.1 1078.5,1193.9 1163.4,1179.0 1248.3,1176.7 1333.2,1157.4 1418.1,1135.7 1503.0,1128.7 1587.9,1125.3 1672.8,1117.4 1770.0,1110.4"/>
<polyline points="64.0,1326.5 76.0,1326.4 104.5,1322.9 174.0,1319.2 229.5,1324.5 314.4,1327.9 399.3,1319.0 484.2,1298.3 569.1,1277.3 654.0,1258.1 738.9,1261.7 823.8,1250.7 908.7,1241.2 993.6,1234.0 1078.5,1227.8 1163.4,1205.6 1248.3,1189.8 1333.2,1175.6 1418.1,1177.9 1503.0,1164.2 1587.9,1146.4 1672.8,1135.4 1770.0,1109.3"/>
<polyline points="64.0,1321.0 76.0,1320.9 104.5,1296.2 174.0,1282.0 229.5,1277.7 314.4,1269.2 399.3,1263.6 484.2,1255.8 569.1,1244.0 654.0,1228.2 738.9,1203.4 823.8,1199.2 908.7,1164.3 993.6,1172.7 1078.5,1168.6 1163.4,1159.9 1248.3,1145.0 1333.2,1126.7 1418.1,1111.9 1503.0,1077.3 1587.9,1056.8 1672.8,1058.5 1770.0,1035.3"/>
<polyline points="64.0,1362.9 76.0,1362.9 104.5,1357.8 174.0,1355.9 229.5,1348.5 314.4,1343.5 399.3,1342.3 484.2,1336.7 569.1,1334.9 654.0,1330.6 738.9,1326.2 823.8,1309.7 908.7,1316.0 993.6,1300.8 1078.5,1299.3 1163.4,1283.5 1248.3,1273.7 1333.2,1271.6 1418.1,1258.8 1503.0,1234.0 1587.9,1238.8 1672.8,1236.3 1770.0,1254.7"/>
<polyline points="64.0,1311.9 76.0,1309.8 104.5,1294.7 174.0,1284.4 229.5,1278.7 314.4,1274.2 399.3,1269.6 484.2,1261.8 569.1,1253.7 654.0,1247.7 738.9,1250.6 823.8,1258.4 908.7,1252.6 993.6,1235.2 1078.5,1213.1 1163.4,1212.7 1248.3,1174.7 1333.2,1164.3 1418.1,1153.9 1503.0,1178.6 1587.9,1168.9 1672.8,1167.1 1770.0,1171.3"/>
<polyline points="64.0,1343.1 76.0,1338.5 104.5,1354.2 174.0,1351.0 229.5,1345.0 314.4,1333.1 399.3,1335.7 484.2,1332.6 569.1,1345.9 654.0,1343.8 738.9,1339.2 823.8,1302.8 908.7,1303.2 993.6,1288.1 1078.5,1276.4 1163.4,1258.8 1248.3,1238.2 1333.2,1227.3 1418.1,1208.3 1503.0,1193.0 1587.9,1180.7 1672.8,1156.2 1770.0,1147.6"/>
<polyline points="64.0,1310.5 76.0,1309.7 104.5,1298.8 174.0,1290.2 229.5,1282.4 314.4,1270.2 399.3,1263.0 484.2,1249.8 569.1,1226.8 654.0,1215.1 738.9,1197.6 823.8,1176.6 908.7,1153.1 993.6,1142.0 1078.5,1126.3 1163.4,1100.9 1248.3,1073.9 1333.2,1056.3 1418.1,1077.6 1503.0,1011.6 1587.9,966.5 1672.8,960.0 1770.0,945.2"/>
<polyline points="64.0,1340.3 76.0,1334.8 104.5,1334.8 174.0,1323.7 229.5,1323.8 314.4,1325.0 399.3,1308.1 484.2,1306.4 569.1,1292.3 654.0,1273.3 738.9,1266.0 823.8,1255.0 908.7,1232.0 993.6,1259.7 1078.5,1252.1 1163.4,1245.4 1248.3,1225.1 1333.2,1180.3 1418.1,1158.7 1503.0,1151.9 1587.9,1159.4 1672.8,1130.3 1770.0,1105.4"/>
<polyline points="64.0,1313.1 76.0,1313.4 104.5,1298.4 174.0,1281.0 229.5,1274.8 314.4,1264.5 399.3,1258.3 484.2,1247.0 569.1,1239.4 654.0,1221.9 738.9,1208.1 823.8,1193.8 908.7,1179.3 993.6,1164.9 1078.5,1153.5 1163.4,1151.4 1248.3,1145.4 1333.2,1122.0 1418.1,1099.8 1503.0,1080.9 1587.9,1058.2 1672.8,1066.6 1770.0,1062.1"/>
<polyline points="64.0,1349.9 76.0,1348.1 104.5,1319.0 174.0,1289.6 229.5,1290.7 314.4,1303.1 399.3,1302.0 484.2,1311.9 569.1,1327.5 654.0,1327.8 738.9,1327.9 823.8,1325.5 908.7,1330.0 993.6,1318.7 1078.5,1333.2 1163.4,1332.5 1248.3,1333.5 1333.2,1320.3 1418.1,1317.9 1503.0,1312.4 1587.9,1299.8 1672.8,1291.8 1770.0,1283.6"/>
<polyline points="64.0,1322.6 76.0,1317.8 104.5,1298.7 174.0,1319.9 229.5,1312.6 314.4,1303.6 399.3,1292.7 484.2,1274.0 569.1,1262.2 654.0,1257.0 738.9,1264.2 823.8,1229.5 908.7,1219.2 993.6,1213.5 1078.5,1229.6 1163.4,1211.1 1248.3,1205.5 1333.2,1186.4 1418.1,1189.4 1503.0,1185.6 1587.9,1178.7 1672.8,1182.1 1770.0,1192.3"/>
<polyline points="64.0,1356.5 76.0,1359.0 104.5,1357.7 174.0,1350.1 229.5,1351.9 314.4,1343.1 399.3,1342.0 484.2,1338.9 569.1,1332.0 654.0,1324.6 738.9,1315.8 823.8,1300.4 908.7,1278.1 993.6,1249.0 1078.5,1227.9 1163.4,1209.6 1248.3,1190.7 1333.2,1163.6 1418.1,1154.4 1503.0,1158.8 1587.9,1136.2 1672.8,1144.8 1770.0,1156.5"/>
<polyline points="64.0,1309.9 76.0,1308.6 104.5,1295.9 174.0,1283.9 229.5,1275.1 314.4,1268.3 399.3,1264.2 484.2,1261.5 569.1,1253.1 654.0,1243.5 738.9,1237.7 823.8,1226.2 908.7,1226.6 993.6,1227.1 1078.5,1218.5 1163.4,1223.4 1248.3,1240.3 1333.2,1228.7 1418.1,1233.4 1503.0,1231.8 1587.9,1234.7 1672.8,1225.4 1770.0,1217.9"/>
<polyline points="64.0,1353.7 76.0,1352.4 104.5,1356.3 174.0,1353.8 229.5,1352.8 314.4,1344.8 399.3,1345.4 484.2,1340.3 569.1,1340.5 654.0,1317.2 738.9,1292.3 823.8,1281.9 908.7,1252.5 993.6,1242.1 1078.5,1225.5 1163.4,1207.5 1248.3,1196.5 1333.2,1203.3 1418.1,1201.4 1503.0,1221.5 1587.9,1221.2 1672.8,1217.8 1770.0,1232.6"/>
<polyline points="64.0,1310.5 76.0,1310.5 104.5,1297.9 174.0,1299.8 229.5,1292.9 314.4,1331.0 399.3,1323.2 484.2,1306.8 569.1,1312.7 654.0,1313.7 738.9,1316.8 823.8,1286.5 908.7,1273.1 993.6,1267.8 1078.5,1268.7 1163.4,1240.9 1248.3,1287.8 1333.2,1202.0 1418.1,1196.8 1503.0,1209.2 1587.9,1184.0 1672.8,1196.3 1770.0,1182.8"/>
<polyline points="64.0,1356.6 76.0,1356.4 104.5,1356.4 174.0,1356.5 229.5,1352.9 314.4,1351.6 399.3,1350.8 484.2,1346.7 569.1,1348.0 654.0,1337.5 738.9,1345.8 823.8,1343.3 908.7,1339.8 993.6,1335.6 1078.5,1334.7 1163.4,1335.0 1248.3,1330.1 1333.2,1327.0 1418.1,1321.7 1503.0,1331.3 1587.9,1339.1 1672.8,1338.1 1770.0,1337.0"/>
<polyline points="64.0,1353.5 76.0,1351.3 104.5,1356.5 174.0,1363.5 229.5,1357.9 314.4,1354.4 399.3,1355.9 484.2,1357.7 569.1,1357.2 654.0,1355.5 738.9,1354.2 823.8,1346.3 908.7,1341.9 993.6,1339.9 1078.5,1337.2 1163.4,1325.0 1248.3,1318.0 1333.2,1306.9 1418.1,1289.8 1503.0,1250.2 1587.9,1229.0 1672.8,1221.1 1770.0,1194.1"/>
<polyline points="64.0,1323.1 76.0,1319.3 104.5,1317.7 174.0,1332.6 229.5,1330.2 314.4,1327.5 399.3,1328.0 484.2,1326.3 569.1,1321.3 654.0,1324.7 738.9,1318.9 823.8,1315.4 908.7,1316.1 993.6,1308.6 1078.5,1281.0 1163.4,1250.5 1248.3,1240.0 1333.2,1254.3 1418.1,1251.6 1503.0,1250.1 1587.9,1241.4 1672.8,1246.4 1770.0,1230.9"/>
<polyline points="64.0,1330.7 76.0,1329.6 104.5,1341.3 174.0,1318.1 229.5,1309.8 314.4,1331.3 399.3,1328.7 484.2,1328.7 569.1,1319.6 654.0,1323.2 738.9,1330.4 823.8,1335.8 908.7,1323.9 993.6,1330.3 1078.5,1326.2 1163.4,1310.6 1248.3,1299.6 1333.2,1300.0 1418.1,1301.3 1503.0,1296.4 1587.9,1293.9 1672.8,1291.0 1770.0,1280.7"/>
<polyline points="64.0,1350.0 76.0,1350.6 104.5,1357.2 174.0,1352.6 229.5,1349.8 314.4,1347.5 399.3,1349.4 484.2,1352.2 569.1,1352.6 654.0,1344.2 738.9,1340.9 823.8,1344.1 908.7,1339.8 993.6,1328.4 1078.5,1325.0 1163.4,1321.3 1248.3,1321.0 1333.2,1313.7 1418.1,1315.5 1503.0,1307.5 1587.9,1308.0 1672.8,1305.9 1770.0,1302.4"/>
<polyline points="64.0,1329.3 76.0,1325.1 104.5,1328.5 174.0,1335.6 229.5,1337.6 314.4,1334.7 399.3,1319.9 484.2,1323.5 569.1,1307.6 654.0,1301.5 738.9,1309.3 823.8,1306.4 908.7,1295.6 993.6,1279.5 1078.5,1258.0 1163.4,1276.4 1248.3,1259.6 1333.2,1255.2 1418.1,1250.1 1503.0,1251.7 1587.9,1232.8 1672.8,1240.1 1770.0,1224.2"/>
<polyline points="64.0,1335.3 76.0,1331.9 104.5,1337.8 174.0,1324.0 229.5,1278.9 314.4,1328.0 399.3,1320.3 484.2,1313.7 569.1,1320.8 654.0,1319.0 738.9,1329.3 823.8,1331.2 908.7,1304.1 993.6,1274.4 1078.5,1271.9 1163.4,1276.1 1248.3,1279.6 1333.2,1288.2 1418.1,1282.1 1503.0,1275.2 1587.9,1266.6 1672.8,1283.8 1770.0,1269.3"/>
<polyline points="64.0,1362.5 76.0,1362.1 104.5,1356.8 174.0,1352.3 229.5,1343.9 314.4,1357.6 399.3,1354.9 484.2,1347.0 569.1,1344.5 654.0,1340.7 738.9,1333.2 823.8,1322.5 908.7,1320.7 993.6,1319.8 1078.5,1298.9 1163.4,1279.5 1248.3,1250.7 1333.2,1249.5 1418.1,1240.8 1503.0,1251.3 1587.9,1219.5 1672.8,1222.9 1770.0,1228.7"/>
<polyline points="64.0,1311.8 76.0,1311.1 104.5,1303.4 174.0,1293.1 229.5,1284.7 314.4,1273.8 399.3,1267.2 484.2,1262.9 569.1,1258.0 654.0,1252.1 738.9,1260.2 823.8,1239.0 908.7,1243.3 993.6,1232.3 1078.5,1226.8 1163.4,1208.5 1248.3,1183.9 1333.2,1163.6 1418.1,1134.4 1503.0,1122.2 1587.9,1118.7 1672.8,1120.0 1770.0,1111.8"/>
<polyline points="64.0,1322.4 76.0,1319.9 104.5,1297.8 174.0,1285.5 229.5,1282.3 314.4,1275.2 399.3,1268.4 484.2,1264.0 569.1,1254.4 654.0,1245.5 738.9,1236.4 823.8,1220.3 908.7,1200.3 993.6,1187.4 1078.5,1173.1 1163.4,1160.9 1248.3,1156.7 1333.2,1145.1 1418.1,1132.9 1503.0,1111.2 1587.9,1096.0 1672.8,1087.5 1770.0,1080.2"/>
<polyline points="64.0,1326.9 76.0,1331.5 104.5,1300.4 174.0,1286.0 229.5,1283.2 314.4,1309.3 399.3,1310.8 484.2,1310.3 569.1,1306.0 654.0,1305.9 738.9,1315.8 823.8,1276.9 908.7,1269.5 993.6,1251.6 1078.5,1261.8 1163.4,1242.9 1248.3,1227.8 1333.2,1262.5 1418.1,1253.7 1503.0,1239.0 1587.9,1254.1 1672.8,1254.0 1770.0,1241.8"/>
<polyline points="64.0,1311.7 76.0,1310.1 104.5,1294.2 174.0,1280.8 229.5,1276.1 314.4,1271.7 399.3,1263.8 484.2,1254.3 569.1,1255.5 654.0,1249.6 738.9,1243.6 823.8,1248.4 908.7,1232.3 993.6,1224.1 1078.5,1205.9 1163.4,1216.6 1248.3,1235.8 1333.2,1229.8 1418.1,1222.6 1503.0,1214.7 1587.9,1200.4 1672.8,1186.8 1770.0,1161.6"/>
<polyline points="64.0,1358.2 76.0,1358.1 104.5,1350.9 174.0,1360.0 229.5,1356.7 314.4,1359.1 399.3,1359.2 484.2,1359.6 569.1,1358.6 654.0,1357.8 738.9,1357.0 823.8,1354.9 908.7,1352.8 993.6,1350.4 1078.5,1348.0 1163.4,1344.6 1248.3,1341.1 1333.2,1335.3 1418.1,1329.6 1503.0,1325.9 1587.9,1325.3 1672.8,1328.6 1770.0,1325.3"/>
<polyline points="64.0,1340.7 76.0,1348.0 104.5,1347.5 174.0,1340.9 229.5,1302.3 314.4,1302.7 399.3,1297.0 484.2,1272.3 569.1,1286.9 654.0,1261.3 738.9,1244.8 823.8,1234.0 908.7,1230.8 993.6,1212.3 1078.5,1213.9 1163.4,1181.0 1248.3,1174.4 1333.2,1161.5 1418.1,1127.0 1503.0,1100.6 1587.9,1076.5 1672.8,1081.3 1770.0,1086.3"/>
<polyline points="64.0,1334.4 76.0,1334.8 104.5,1339.7 174.0,1341.6 229.5,1320.1 314.4,1330.8 399.3,1321.9 484.2,1308.3 569.1,1292.7 654.0,1295.2 738.9,1290.0 823.8,1268.1 908.7,1275.1 993.6,1267.1 1078.5,1312.9 1163.4,1315.4 1248.3,1217.6 1333.2,1192.2 1418.1,1198.1 1503.0,1186.8 1587.9,1181.1 1672.8,1153.4 1770.0,1137.0"/>
<polyline points="64.0,1321.2 76.0,1314.6 104.5,1312.8 174.0,1315.8 229.5,1310.5 314.4,1316.7 399.3,1327.2 484.2,1323.7 569.1,1316.9 654.0,1313.1 738.9,1304.3 823.8,1308.6 908.7,1309.8 993.6,1271.0 1078.5,1259.7 1163.4,1252.9 1248.3,1264.2 1333.2,1265.6 1418.1,1247.9 1503.0,1234.1 1587.9,1220.9 1672.8,1216.1 1770.0,1211.8"/>
<polyline points="64.0,1343.3 76.0,1343.3 104.5,1329.2 174.0,1313.6 229.5,1312.8 314.4,1316.1 399.3,1307.6 484.2,1293.0 569.1,1287.9 654.0,1277.4 738.9,1265.9 823.8,1234.9 908.7,1221.3 993.6,1209.2 1078.5,1192.2 1163.4,1177.0 1248.3,1153.9 1333.2,1146.2 1418.1,1089.4 1503.0,1079.6 1587.9,1056.1 1672.8,1052.1 1770.0,1064.4"/>
<polyline points="64.0,1311.4 76.0,1309.2 104.5,1297.8 174.0,1285.5 229.5,1279.5 314.4,1275.5 399.3,1268.1 484.2,1264.8 569.1,1270.1 654.0,1261.0 738.9,1253.9 823.8,1228.0 908.7,1218.0 993.6,1222.9 1078.5,1216.4 1163.4,1213.3 1248.3,1199.4 1333.2,1163.5 1418.1,1150.8 1503.0,1164.4 1587.9,1172.1 1672.8,1138.9 1770.0,1148.8"/>
<polyline points="64.0,1341.4 76.0,1343.0 104.5,1347.6 174.0,1349.0 229.5,1345.0 314.4,1339.1 399.3,1340.0 484.2,1327.4 569.1,1330.3 654.0,1329.3 738.9,1336.0 823.8,1335.3 908.7,1331.4 993.6,1315.1 1078.5,1307.0 1163.4,1276.5 1248.3,1301.1 1333.2,1299.0 1418.1,1301.6 1503.0,1294.0 1587.9,1282.9 1672.8,1270.0 1770.0,1269.6"/>
<polyline points="64.0,1312.9 76.0,1311.0 104.5,1298.9 174.0,1286.0 229.5,1281.4 314.4,1278.9 399.3,1285.3 484.2,1280.2 569.1,1278.2 654.0,1257.4 738.9,1256.9 823.8,1246.1 908.7,1245.9 993.6,1233.9 1078.5,1224.8 1163.4,1225.3 1248.3,1203.2 1333.2,1181.4 1418.1,1183.7 1503.0,1181.6 1587.9,1184.3 1672.8,1146.1 1770.0,1140.6"/>
<polyline points="64.0,1312.5 76.0,1316.2 104.5,1296.6 174.0,1285.9 229.5,1279.7 314.4,1283.8 399.3,1268.0 484.2,1266.9 569.1,1259.7 654.0,1252.7 738.9,1245.9 823.8,1233.1 908.7,1204.6 993.6,1191.7 1078.5,1188.1 1163.4,1172.5 1248.3,1159.8 1333.2,1142.0 1418.1,1115.2 1503.0,1103.6 1587.9,1070.3 1672.8,1079.1 1770.0,1089.9"/>
<polyline points="64.0,1311.4 76.0,1310.5 104.5,1296.4 174.0,1283.3 229.5,1278.0 314.4,1271.1 399.3,1265.2 484.2,1260.0 569.1,1252.6 654.0,1240.7 738.9,1230.0 823.8,1222.6 908.7,1212.9 993.6,1203.2 1078.5,1192.1 1163.4,1182.4 1248.3,1160.7 1333.2,1142.0 1418.1,1130.2 1503.0,1103.1 1587.9,1074.6 1672.8,1091.1 1770.0,1085.5"/>
<polyline points="64.0,1340.3 76.0,1343.6 104.5,1337.5 174.0,1324.7 229.5,1319.7 314.4,1326.2 399.3,1327.6 484.2,1307.0 569.1,1311.9 654.0,1312.2 738.9,1317.4 823.8,1324.0 908.7,1317.6 993.6,1322.3 1078.5,1322.9 1163.4,1304.4 1248.3,1308.5 1333.2,1298.1 1418.1,1290.8 1503.0,1283.4 1587.9,1277.0 1672.8,1269.2 1770.0,1263.6"/>
<polyline points="64.0,1340.2 76.0,1332.4 104.5,1316.1 174.0,1305.0 229.5,1294.7 314.4,1298.2 399.3,1294.3 484.2,1300.2 569.1,1306.2 654.0,1306.8 738.9,1290.0 823.8,1266.5 908.7,1258.6 993.6,1238.3 1078.5,1196.5 1163.4,1184.8 1248.3,1174.2 1333.2,1162.9 1418.1,1185.0 1503.0,1186.7 1587.9,1184.1 1672.8,1173.6 1770.0,1184.7"/>
<polyline points="64.0,1317.1 76.0,1315.7 104.5,1304.3 174.0,1297.5 229.5,1306.0 314.4,1310.6 399.3,1291.6 484.2,1287.2 569.1,1283.5 654.0,1287.1 738.9,1275.7 823.8,1261.7 908.7,1281.0 993.6,1277.1 1078.5,1275.9 1163.4,1257.2 1248.3,1260.3 1333.2,1257.8 1418.1,1272.5 1503.0,1272.7 1587.9,1264.8 1672.8,1255.3 1770.0,1238.6"/>
<polyline points="64.0,1342.2 76.0,1342.8 104.5,1341.5 174.0,1315.2 229.5,1298.6 314.4,1287.5 399.3,1277.2 484.2,1264.8 569.1,1261.4 654.0,1248.4 738.9,1240.6 823.8,1225.0 908.7,1213.0 993.6,1201.6 1078.5,1197.4 1163.4,1190.6 1248.3,1194.6 1333.2,1198.0 1418.1,1164.9 1503.0,1178.8 1587.9,1182.9 1672.8,1189.0 1770.0,1175.3"/>
<polyline points="64.0,1351.6 76.0,1352.1 104.5,1357.4 174.0,1362.5 229.5,1359.2 314.4,1359.6 399.3,1358.1 484.2,1350.9 569.1,1356.1 654.0,1349.8 738.9,1347.8 823.8,1349.2 908.7,1349.3 993.6,1346.7 1078.5,1345.6 1163.4,1341.7 1248.3,1337.9 1333.2,1339.3 1418.1,1322.6 1503.0,1316.5 1587.9,1314.8 1672.8,1316.9 1770.0,1315.5"/>
<polyline points="64.0,1347.9 76.0,1350.9 104.5,1347.3 174.0,1344.1 229.5,1343.6 314.4,1342.2 399.3,1340.8 484.2,1329.6 569.1,1332.5 654.0,1324.2 738.9,1325.8 823.8,1319.9 908.7,1308.4 993.6,1282.1 1078.5,1298.9 1163.4,1272.4 1248.3,1265.8 1333.2,1266.2 1418.1,1261.3 1503.0,1260.2 1587.9,1259.9 1672.8,1273.9 1770.0,1262.1"/>
<polyline points="64.0,1339.9 76.0,1340.4 104.5,1341.7 174.0,1341.2 229.5,1340.7 314.4,1335.3 399.3,1332.4 484.2,1331.6 569.1,1328.1 654.0,1323.8 738.9,1323.8 823.8,1320.1 908.7,1317.1 993.6,1321.8 1078.5,1290.8 1163.4,1300.2 1248.3,1303.9 1333.2,1293.4 1418.1,1290.2 1503.0,1286.8 1587.9,1280.0 1672.8,1288.3 1770.0,1262.4"/>
<polyline points="64.0,1339.6 76.0,1331.4 104.5,1325.4 174.0,1337.1 229.5,1327.7 314.4,1321.8 399.3,1331.1 484.2,1312.6 569.1,1302.8 654.0,1298.8 738.9,1284.3 823.8,1287.4 908.7,1288.1 993.6,1274.0 1078.5,1263.6 1163.4,1237.4 1248.3,1222.0 1333.2,1229.9 1418.1,1221.2 1503.0,1173.6 1587.9,1130.3 1672.8,1126.2 1770.0,1113.9"/>
<polyline points="64.0,1341.1 76.0,1334.3 104.5,1307.9 174.0,1311.8 229.5,1309.0 314.4,1307.9 399.3,1312.8 484.2,1298.0 569.1,1289.0 654.0,1280.4 738.9,1270.7 823.8,1264.5 908.7,1284.1 993.6,1276.0 1078.5,1300.3 1163.4,1293.0 1248.3,1291.3 1333.2,1293.1 1418.1,1277.6 1503.0,1278.4 1587.9,1271.2 1672.8,1261.6 1770.0,1234.5"/>
<polyline points="64.0,1315.3 76.0,1313.4 104.5,1299.4 174.0,1295.5 229.5,1298.5 314.4,1300.5 399.3,1288.8 484.2,1284.5 569.1,1279.8 654.0,1280.8 738.9,1250.4 823.8,1243.1 908.7,1237.4 993.6,1213.4 1078.5,1203.6 1163.4,1190.8 1248.3,1178.0 1333.2,1161.3 1418.1,1143.2 1503.0,1139.6 1587.9,1117.6 1672.8,1119.5 1770.0,1148.5"/>
<polyline points="64.0,1336.0 76.0,1347.2 104.5,1333.7 174.0,1342.4 229.5,1339.2 314.4,1326.3 399.3,1320.1 484.2,1309.3 569.1,1307.0 654.0,1298.3 738.9,1269.3 823.8,1258.6 908.7,1245.1 993.6,1254.5 1078.5,1246.1 1163.4,1246.6 1248.3,1227.4 1333.2,1206.4 1418.1,1193.1 1503.0,1193.9 1587.9,1164.6 1672.8,1153.3 1770.0,1128.3"/>
<polyline points="64.0,1362.5 76.0,1362.5 104.5,1358.6 174.0,1350.2 229.5,1347.3 314.4,1343.6 399.3,1349.0 484.2,1343.4 569.1,1344.2 654.0,1340.5 738.9,1341.5 823.8,1335.8 908.7,1327.2 993.6,1320.7 1078.5,1314.3 1163.4,1304.8 1248.3,1297.1 1333.2,1291.2 1418.1,1295.3 1503.0,1277.8 1587.9,1272.9 1672.8,1275.7 1770.0,1261.6"/>
<polyline points="64.0,1351.9 76.0,1351.6 104.5,1344.0 174.0,1318.9 229.5,1322.4 314.4,1321.3 399.3,1341.5 484.2,1336.1 569.1,1329.0 654.0,1314.2 738.9,1316.3 823.8,1290.5 908.7,1303.3 993.6,1294.6 1078.5,1279.8 1163.4,1275.5 1248.3,1279.9 1333.2,1289.6 1418.1,1282.4 1503.0,1279.6 1587.9,1277.8 1672.8,1278.2 1770.0,1277.9"/>
<polyline points="64.0,1356.4 76.0,1356.0 104.5,1356.9 174.0,1344.5 229.5,1347.5 314.4,1344.2 399.3,1339.6 484.2,1333.8 569.1,1337.7 654.0,1331.4 738.9,1331.9 823.8,1331.4 908.7,1322.1 993.6,1320.2 1078.5,1311.8 1163.4,1291.8 1248.3,1271.5 1333.2,1261.3 1418.1,1244.2 1503.0,1218.3 1587.9,1200.8 1672.8,1188.7 1770.0,1189.8"/>
<polyline points="64.0,1330.0 76.0,1326.9 104.5,1309.7 174.0,1288.5 229.5,1290.3 314.4,1289.4 399.3,1289.4 484.2,1276.3 569.1,1286.5 654.0,1279.3 738.9,1256.3 823.8,1233.9 908.7,1231.7 993.6,1236.4 1078.5,1234.2 1163.4,1252.4 1248.3,1238.5 1333.2,1222.7 1418.1,1212.2 1503.0,1182.1 1587.9,1157.4 1672.8,1152.4 1770.0,1149.9"/>
<polyline points="64.0,1334.0 76.0,1329.6 104.5,1309.7 174.0,1290.7 229.5,1279.9 314.4,1273.8 399.3,1266.5 484.2,1262.9 569.1,1255.6 654.0,1246.6 738.9,1240.2 823.8,1218.8 908.7,1201.9 993.6,1198.9 1078.5,1198.2 1163.4,1178.7 1248.3,1182.3 1333.2,1164.0 1418.1,1158.6 1503.0,1150.3 1587.9,1154.9 1672.8,1144.5 1770.0,1118.9"/>
<polyline points="64.0,1317.6 76.0,1311.8 104.5,1303.7 174.0,1284.7 229.5,1277.1 314.4,1270.5 399.3,1262.0 484.2,1257.5 569.1,1242.9 654.0,1231.3 738.9,1222.0 823.8,1199.8 908.7,1177.8 993.6,1182.6 1078.5,1183.4 1163.4,1161.5 1248.3,1149.4 1333.2,1143.8 1418.1,1129.0 1503.0,1108.6 1587.9,1090.1 1672.8,1088.5 1770.0,1090.1"/>
<polyline points="64.0,1310.7 76.0,1309.5 104.5,1297.4 174.0,1288.9 229.5,1285.1 314.4,1289.4 399.3,1305.4 484.2,1336.8 569.1,1334.9 654.0,1331.4 738.9,1338.6 823.8,1331.9 908.7,1330.3 993.6,1336.6 1078.5,1328.6 1163.4,1317.8 1248.3,1303.7 1333.2,1269.5 1418.1,1257.1 1503.0,1248.0 1587.9,1242.4 1672.8,1153.4 1770.0,1161.7"/>
<polyline points="64.0,1329.6 76.0,1331.4 104.5,1316.8 174.0,1318.1 229.5,1307.6 314.4,1303.5 399.3,1316.6 484.2,1318.1 569.1,1298.6 654.0,1280.7 738.9,1262.9 823.8,1244.0 908.7,1230.4 993.6,1229.8 1078.5,1202.6 1163.4,1190.3 1248.3,1174.6 1333.2,1147.1 1418.1,1144.3 1503.0,1137.4 1587.9,1144.8 1672.8,1148.4 1770.0,1133.5"/>
<polyline points="64.0,1331.0 76.0,1331.1 104.5,1323.2 174.0,1284.3 229.5,1278.0 314.4,1282.6 399.3,1269.5 484.2,1263.6 569.1,1256.4 654.0,1250.7 738.9,1245.0 823.8,1227.3 908.7,1221.0 993.6,1217.4 1078.5,1218.5 1163.4,1227.4 1248.3,1212.6 1333.2,1190.0 1418.1,1161.6 1503.0,1132.8 1587.9,1124.6 1672.8,1120.5 1770.0,1149.1"/>
<polyline points="64.0,1357.7 76.0,1355.9 104.5,1353.8 174.0,1361.6 229.5,1361.8 314.4,1361.8 399.3,1360.5 484.2,1357.3 569.1,1356.1 654.0,1350.5 738.9,1344.9 823.8,1344.9 908.7,1336.4 993.6,1334.1 1078.5,1336.9 1163.4,1339.1 1248.3,1334.6 1333.2,1340.5 1418.1,1334.0 1503.0,1313.2 1587.9,1309.8 1672.8,1306.0 1770.0,1296.7"/>
<polyline points="64.0,1312.9 76.0,1314.6 104.5,1299.8 174.0,1284.7 229.5,1278.9 314.4,1274.4 399.3,1267.8 484.2,1260.7 569.1,1254.5 654.0,1244.5 738.9,1245.4 823.8,1247.6 908.7,1213.8 993.6,1204.8 1078.5,1196.4 1163.4,1175.2 1248.3,1165.9 1333.2,1158.4 1418.1,1141.9 1503.0,1119.2 1587.9,1115.3 1672.8,1106.1 1770.0,1101.7"/>
<polyline points="64.0,1309.9 76.0,1308.9 104.5,1296.0 174.0,1286.0 229.5,1285.5 314.4,1311.7 399.3,1306.7 484.2,1314.1 569.1,1317.3 654.0,1314.4 738.9,1322.3 823.8,1320.7 908.7,1312.9 993.6,1319.4 1078.5,1309.4 1163.4,1294.0 1248.3,1286.3 1333.2,1280.2 1418.1,1245.2 1503.0,1241.1 1587.9,1216.5 1672.8,1218.4 1770.0,1215.7"/>
<polyline points="64.0,1350.0 76.0,1348.7 104.5,1342.3 174.0,1315.0 229.5,1317.2 314.4,1288.8 399.3,1287.4 484.2,1294.9 569.1,1305.5 654.0,1283.7 738.9,1291.8 823.8,1291.9 908.7,1292.2 993.6,1280.3 1078.5,1285.8 1163.4,1284.6 1248.3,1256.1 1333.2,1262.6 1418.1,1253.2 1503.0,1248.9 1587.9,1268.6 1672.8,1267.9 1770.0,1271.0"/>
<polyline points="64.0,1310.4 76.0,1309.4 104.5,1292.8 174.0,1278.4 229.5,1270.6 314.4,1262.7 399.3,1259.7 484.2,1251.6 569.1,1242.8 654.0,1232.7 738.9,1222.6 823.8,1211.3 908.7,1206.8 993.6,1204.6 1078.5,1194.6 1163.4,1175.4 1248.3,1166.3 1333.2,1156.3 1418.1,1137.9 1503.0,1123.2 1587.9,1090.7 1672.8,1040.9 1770.0,1024.0"/>
<polyline points="64.0,1324.4 76.0,1324.8 104.5,1323.6 174.0,1350.3 229.5,1346.8 314.4,1345.6 399.3,1348.2 484.2,1345.6 569.1,1341.6 654.0,1335.6 738.9,1336.3 823.8,1335.7 908.7,1322.8 993.6,1321.7 1078.5,1303.1 1163.4,1275.2 1248.3,1270.0 1333.2,1264.0 1418.1,1248.6 1503.0,1253.0 1587.9,1240.7 1672.8,1228.0 1770.0,1208.9"/>
<polyline points="64.0,1352.4 76.0,1353.4 104.5,1349.4 174.0,1348.4 229.5,1346.0 314.4,1341.9 399.3,1347.0 484.2,1349.1 569.1,1352.6 654.0,1346.5 738.9,1337.0 823.8,1334.6 908.7,1321.7 993.6,1322.1 1078.5,1341.1 1163.4,1332.4 1248.3,1327.7 1333.2,1313.5 1418.1,1294.3 1503.0,1300.3 1587.9,1296.5 1672.8,1290.2 1770.0,1282.6"/>
<polyline points="64.0,1326.5 76.0,1323.6 104.5,1332.9 174.0,1300.1 229.5,1294.9 314.4,1289.6 399.3,1272.3 484.2,1276.0 569.1,1273.7 654.0,1299.2 738.9,1303.4 823.8,1292.7 908.7,1281.4 993.6,1276.9 1078.5,1268.4 1163.4,1269.5 1248.3,1251.8 1333.2,1261.0 1418.1,1237.9 1503.0,1236.0 1587.9,1216.7 1672.8,1202.3 1770.0,1211.2"/>
<polyline points="64.0,1340.2 76.0,1346.8 104.5,1339.5 174.0,1314.4 229.5,1314.4 314.4,1306.9 399.3,1293.6 484.2,1275.4 569.1,1259.3 654.0,1250.8 738.9,1252.1 823.8,1246.7 908.7,1246.5 993.6,1235.0 1078.5,1229.0 1163.4,1204.5 1248.3,1199.9 1333.2,1176.0 1418.1,1156.5 1503.0,1124.2 1587.9,1123.7 1672.8,1113.7 1770.0,1107.0"/>
<polyline points="64.0,1359.8 76.0,1362.4 104.5,1362.5 174.0,1363.3 229.5,1362.9 314.4,1360.1 399.3,1354.9 484.2,1349.6 569.1,1354.0 654.0,1352.6 738.9,1346.7 823.8,1338.7 908.7,1336.3 993.6,1321.3 1078.5,1322.9 1163.4,1302.9 1248.3,1290.3 1333.2,1289.2 1418.1,1269.3 1503.0,1262.1 1587.9,1221.4 1672.8,1228.9 1770.0,1232.7"/>
<polyline points="64.0,1344.8 76.0,1339.9 104.5,1327.5 174.0,1329.6 229.5,1323.0 314.4,1332.2 399.3,1336.3 484.2,1336.0 569.1,1335.2 654.0,1336.1 738.9,1325.6 823.8,1317.0 908.7,1320.9 993.6,1318.2 1078.5,1307.9 1163.4,1304.5 1248.3,1294.1 1333.2,1287.0 1418.1,1278.2 1503.0,1267.6 1587.9,1267.6 1672.8,1258.1 1770.0,1253.8"/>
<polyline points="64.0,1330.3 76.0,1322.7 104.5,1315.8 174.0,1301.2 229.5,1285.5 314.4,1312.3 399.3,1302.4 484.2,1311.9 569.1,1317.9 654.0,1309.3 738.9,1307.4 823.8,1297.0 908.7,1311.9 993.6,1311.0 1078.5,1307.2 1163.4,1284.7 1248.3,1252.1 1333.2,1242.9 1418.1,1210.6 1503.0,1220.9 1587.9,1201.6 1672.8,1208.7 1770.0,1214.9"/>
<polyline points="64.0,1325.8 76.0,1325.0 104.5,1330.6 174.0,1351.7 229.5,1348.6 314.4,1349.1 399.3,1343.4 484.2,1338.2 569.1,1339.4 654.0,1330.2 738.9,1333.9 823.8,1330.6 908.7,1322.0 993.6,1323.4 1078.5,1313.2 1163.4,1307.9 1248.3,1302.8 1333.2,1298.8 1418.1,1278.2 1503.0,1188.6 1587.9,1179.1 1672.8,1173.0 1770.0,1170.7"/>
<polyline points="64.0,1356.3 76.0,1353.8 104.5,1345.3 174.0,1348.7 229.5,1342.1 314.4,1332.8 399.3,1334.7 484.2,1320.4 569.1,1332.5 654.0,1328.7 738.9,1322.6 823.8,1303.7 908.7,1296.4 993.6,1289.1 1078.5,1281.5 1163.4,1276.6 1248.3,1261.1 1333.2,1254.6 1418.1,1236.8 1503.0,1188.1 1587.9,1173.4 1672.8,1173.4 1770.0,1175.9"/>
<polyline points="64.0,1317.7 76.0,1312.1 104.5,1299.0 174.0,1317.8 229.5,1323.9 314.4,1313.4 399.3,1315.0 484.2,1282.6 569.1,1276.3 654.0,1256.3 738.9,1249.4 823.8,1233.5 908.7,1227.5 993.6,1211.9 1078.5,1207.9 1163.4,1221.5 1248.3,1215.5 1333.2,1218.8 1418.1,1204.8 1503.0,1194.2 1587.9,1171.6 1672.8,1172.9 1770.0,1174.7"/>
<polyline points="64.0,1309.0 76.0,1308.0 104.5,1293.2 174.0,1280.6 229.5,1274.5 314.4,1269.9 399.3,1267.7 484.2,1261.8 569.1,1257.1 654.0,1244.9 738.9,1242.3 823.8,1240.7 908.7,1223.1 993.6,1232.1 1078.5,1216.2 1163.4,1203.5 1248.3,1186.0 1333.2,1191.6 1418.1,1177.8 1503.0,1187.9 1587.9,1161.8 1672.8,1143.6 1770.0,1111.6"/>
<polyline points="64.0,1343.0 76.0,1341.7 104.5,1324.1 174.0,1323.3 229.5,1315.9 314.4,1305.9 399.3,1297.1 484.2,1282.4 569.1,1291.5 654.0,1286.6 738.9,1277.7 823.8,1276.4 908.7,1237.2 993.6,1235.4 1078.5,1227.0 1163.4,1214.7 1248.3,1202.9 1333.2,1206.0 1418.1,1221.2 1503.0,1183.0 1587.9,1168.1 1672.8,1154.2 1770.0,1126.6"/>
<polyline points="64.0,1361.3 76.0,1362.7 104.5,1362.5 174.0,1344.0 229.5,1342.4 314.4,1327.7 399.3,1317.8 484.2,1310.3 569.1,1313.7 654.0,1306.8 738.9,1281.6 823.8,1252.6 908.7,1247.9 993.6,1233.4 1078.5,1227.5 1163.4,1225.5 1248.3,1198.8 1333.2,1217.3 1418.1,1196.1 1503.0,1177.2 1587.9,1167.7 1672.8,1156.7 1770.0,1159.0"/>
<polyline points="64.0,1326.7 76.0,1325.1 104.5,1333.6 174.0,1313.2 229.5,1308.8 314.4,1318.4 399.3,1316.9 484.2,1301.1 569.1,1306.6 654.0,1288.9 738.9,1291.3 823.8,1276.3 908.7,1277.8 993.6,1269.4 1078.5,1288.0 1163.4,1276.7 1248.3,1271.6 1333.2,1258.0 1418.1,1230.0 1503.0,1227.3 1587.9,1221.7 1672.8,1224.4 1770.0,1193.5"/>
<polyline points="64.0,1352.9 76.0,1353.5 104.5,1355.1 174.0,1335.1 229.5,1338.2 314.4,1322.8 399.3,1302.2 484.2,1304.2 569.1,1296.0 654.0,1299.3 738.9,1286.5 823.8,1272.5 908.7,1256.6 993.6,1266.2 1078.5,1253.0 1163.4,1259.7 1248.3,1266.4 1333.2,1270.2 1418.1,1249.3 1503.0,1244.5 1587.9,1229.8 1672.8,1214.1 1770.0,1226.3"/>
<polyline points="64.0,1331.1 76.0,1331.8 104.5,1348.7 174.0,1345.3 229.5,1341.5 314.4,1337.6 399.3,1340.4 484.2,1339.8 569.1,1342.8 654.0,1337.3 738.9,1344.2 823.8,1329.7 908.7,1314.4 993.6,1277.1 1078.5,1292.9 1163.4,1285.6 1248.3,1288.5 1333.2,1280.0 1418.1,1269.2 1503.0,1268.2 1587.9,1256.1 1672.8,1248.0 1770.0,1227.7"/>
<polyline points="64.0,1347.7 76.0,1349.3 104.5,1349.5 174.0,1345.7 229.5,1342.0 314.4,1335.2 399.3,1332.2 484.2,1309.2 569.1,1302.3 654.0,1288.4 738.9,1288.7 823.8,1274.7 908.7,1264.7 993.6,1267.8 1078.5,1256.9 1163.4,1251.0 1248.3,1237.1 1333.2,1219.7 1418.1,1200.1 1503.0,1206.9 1587.9,1219.2 1672.8,1196.2 1770.0,1155.1"/>
<polyline points="64.0,1312.6 76.0,1310.9 104.5,1296.8 174.0,1287.2 229.5,1287.2 314.4,1288.7 399.3,1274.2 484.2,1268.3 569.1,1275.4 654.0,1275.7 738.9,1274.9 823.8,1271.9 908.7,1271.1 993.6,1264.4 1078.5,1255.1 1163.4,1237.5 1248.3,1239.6 1333.2,1218.1 1418.1,1257.2 1503.0,1249.5 1587.9,1244.1 1672.8,1255.3 1770.0,1158.3"/>
<polyline points="64.0,1333.7 76.0,1342.0 104.5,1343.4 174.0,1311.1 229.5,1303.0 314.4,1279.5 399.3,1273.6 484.2,1272.7 569.1,1263.3 654.0,1261.9 738.9,1245.3 823.8,1240.2 908.7,1247.9 993.6,1242.7 1078.5,1238.8 1163.4,1229.5 1248.3,1222.6 1333.2,1223.8 1418.1,1205.0 1503.0,1205.3 1587.9,1206.7 1672.8,1165.4 1770.0,1179.9"/>
<polyline points="64.0,1312.1 76.0,1315.2 104.5,1321.0 174.0,1310.3 229.5,1315.3 314.4,1319.1 399.3,1300.9 484.2,1290.0 569.1,1282.1 654.0,1286.3 738.9,1272.6 823.8,1263.8 908.7,1242.4 993.6,1235.0 1078.5,1234.9 1163.4,1246.5 1248.3,1242.3 1333.2,1253.1 1418.1,1230.7 1503.0,1228.3 1587.9,1223.7 1672.8,1253.5 1770.0,1238.2"/>
<polyline points="64.0,1334.2 76.0,1334.2 104.5,1321.7 174.0,1311.8 229.5,1310.8 314.4,1300.3 399.3,1284.6 484.2,1283.8 569.1,1280.2 654.0,1282.7 738.9,1275.9 823.8,1278.6 908.7,1269.4 993.6,1273.5 1078.5,1263.2 1163.4,1292.7 1248.3,1260.1 1333.2,1259.7 1418.1,1249.7 1503.0,1264.9 1587.9,1282.1 1672.8,1281.7 1770.0,1279.4"/>
<polyline points="64.0,1336.7 76.0,1335.1 104.5,1336.0 174.0,1337.3 229.5,1337.6 314.4,1343.8 399.3,1344.7 484.2,1334.2 569.1,1327.9 654.0,1326.0 738.9,1323.3 823.8,1309.6 908.7,1313.3 993.6,1301.1 1078.5,1300.4 1163.4,1297.1 1248.3,1278.4 1333.2,1269.0 1418.1,1255.4 1503.0,1245.7 1587.9,1258.5 1672.8,1261.5 1770.0,1259.6"/>
<polyline points="64.0,1351.7 76.0,1351.5 104.5,1345.7 174.0,1344.7 229.5,1340.2 314.4,1336.8 399.3,1335.6 484.2,1318.5 569.1,1321.2 654.0,1313.0 738.9,1305.1 823.8,1319.5 908.7,1317.4 993.6,1323.6 1078.5,1319.1 1163.4,1304.3 1248.3,1301.3 1333.2,1295.3 1418.1,1286.2 1503.0,1294.4 1587.9,1282.1 1672.8,1280.8 1770.0,1272.4"/>
<polyline points="64.0,1329.8 76.0,1327.1 104.5,1315.3 174.0,1287.9 229.5,1290.0 314.4,1288.0 399.3,1312.6 484.2,1300.5 569.1,1292.3 654.0,1263.1 738.9,1264.8 823.8,1262.5 908.7,1241.0 993.6,1223.4 1078.5,1216.1 1163.4,1212.4 1248.3,1201.8 1333.2,1190.4 1418.1,1216.1 1503.0,1228.7 1587.9,1231.0 1672.8,1223.3 1770.0,1192.7"/>
<polyline points="64.0,1350.9 76.0,1351.1 104.5,1345.6 174.0,1321.0 229.5,1338.8 314.4,1319.0 399.3,1311.8 484.2,1310.6 569.1,1304.1 654.0,1301.6 738.9,1293.8 823.8,1289.8 908.7,1287.2 993.6,1291.0 1078.5,1273.7 1163.4,1254.3 1248.3,1262.3 1333.2,1239.5 1418.1,1222.5 1503.0,1219.5 1587.9,1204.5 1672.8,1210.5 1770.0,1239.8"/>
<polyline points="64.0,1348.2 76.0,1345.3 104.5,1344.1 174.0,1330.1 229.5,1327.6 314.4,1319.4 399.3,1284.4 484.2,1286.4 569.1,1282.0 654.0,1265.2 738.9,1260.5 823.8,1253.9 908.7,1248.1 993.6,1226.2 1078.5,1220.7 1163.4,1216.0 1248.3,1192.5 1333.2,1205.2 1418.1,1164.1 1503.0,1163.4 1587.9,1161.4 1672.8,1170.5 1770.0,1190.5"/>
<polyline points="64.0,1324.9 76.0,1323.2 104.5,1323.3 174.0,1360.5 229.5,1355.3 314.4,1352.2 399.3,1352.4 484.2,1347.0 569.1,1351.8 654.0,1339.7 738.9,1340.3 823.8,1340.0 908.7,1323.4 993.6,1319.4 1078.5,1317.4 1163.4,1308.7 1248.3,1294.6 1333.2,1278.2 1418.1,1273.5 1503.0,1257.7 1587.9,1244.1 1672.8,1246.4 1770.0,1229.5"/>
<polyline points="64.0,1346.9 76.0,1345.2 104.5,1347.6 174.0,1343.6 229.5,1336.5 314.4,1332.5 399.3,1331.8 484.2,1321.6 569.1,1320.3 654.0,1314.1 738.9,1310.3 823.8,1309.6 908.7,1299.6 993.6,1326.2 1078.5,1326.9 1163.4,1316.0 1248.3,1309.0 1333.2,1302.2 1418.1,1298.7 1503.0,1286.6 1587.9,1290.3 1672.8,1281.9 1770.0,1260.4"/>
<polyline points="64.0,1344.0 76.0,1349.4 104.5,1326.8 174.0,1331.2 229.5,1332.7 314.4,1331.1 399.3,1288.8 484.2,1284.2 569.1,1279.3 654.0,1263.5 738.9,1305.6 823.8,1276.5 908.7,1258.3 993.6,1245.7 1078.5,1224.5 1163.4,1217.3 1248.3,1227.1 1333.2,1209.3 1418.1,1205.0 1503.0,1221.6 1587.9,1197.1 1672.8,1214.3 1770.0,1182.0"/>
<polyline points="64.0,1335.1 76.0,1330.9 104.5,1311.9 174.0,1305.2 229.5,1301.6 314.4,1308.8 399.3,1315.2 484.2,1311.3 569.1,1317.0 654.0,1319.4 738.9,1298.7 823.8,1286.1 908.7,1290.2 993.6,1260.4 1078.5,1268.8 1163.4,1263.0 1248.3,1258.4 1333.2,1260.6 1418.1,1252.0 1503.0,1238.5 1587.9,1199.0 1672.8,1193.6 1770.0,1184.7"/>
<polyline points="64.0,1337.2 76.0,1336.6 104.5,1340.8 174.0,1316.3 229.5,1304.7 314.4,1298.0 399.3,1293.1 484.2,1299.3 569.1,1301.8 654.0,1298.2 738.9,1295.9 823.8,1296.3 908.7,1299.8 993.6,1286.9 1078.5,1277.8 1163.4,1265.6 1248.3,1256.3 1333.2,1239.4 1418.1,1235.3 1503.0,1217.9 1587.9,1220.5 1672.8,1192.9 1770.0,1179.7"/>
<polyline points="64.0,1311.5 76.0,1310.4 104.5,1297.4 174.0,1292.1 229.5,1291.4 314.4,1282.9 399.3,1286.6 484.2,1292.1 569.1,1285.0 654.0,1271.5 738.9,1269.9 823.8,1251.9 908.7,1261.9 993.6,1282.1 1078.5,1275.4 1163.4,1275.0 1248.3,1284.2 1333.2,1291.9 1418.1,1340.1 1503.0,1339.6 1587.9,1326.3 1672.8,1309.3 1770.0,1298.9"/>
<polyline points="64.0,1329.8 76.0,1328.5 104.5,1312.3 174.0,1312.8 229.5,1301.8 314.4,1303.4 399.3,1299.9 484.2,1306.5 569.1,1304.9 654.0,1288.3 738.9,1280.2 823.8,1274.4 908.7,1303.5 993.6,1291.7 1078.5,1230.3 1163.4,1228.1 1248.3,1217.1 1333.2,1214.0 1418.1,1217.8 1503.0,1183.6 1587.9,1162.4 1672.8,1158.4 1770.0,1150.8"/>
<polyline points="64.0,1309.5 76.0,1308.7 104.5,1293.6 174.0,1283.9 229.5,1278.3 314.4,1274.5 399.3,1269.5 484.2,1260.9 569.1,1253.4 654.0,1249.2 738.9,1239.7 823.8,1220.9 908.7,1209.1 993.6,1202.0 1078.5,1197.9 1163.4,1184.1 1248.3,1177.1 1333.2,1158.1 1418.1,1136.1 1503.0,1134.9 1587.9,1128.1 1672.8,1108.9 1770.0,1099.2"/>
<polyline points="64.0,1350.8 76.0,1348.1 104.5,1343.8 174.0,1338.5 229.5,1325.0 314.4,1334.4 399.3,1303.8 484.2,1308.0 569.1,1307.3 654.0,1309.3 738.9,1299.9 823.8,1301.4 908.7,1296.5 993.6,1272.6 1078.5,1281.6 1163.4,1283.6 1248.3,1285.4 1333.2,1281.5 1418.1,1263.7 1503.0,1276.5 1587.9,1265.7 1672.8,1266.8 1770.0,1259.2"/>
<polyline points="64.0,1350.5 76.0,1349.2 104.5,1336.7 174.0,1337.2 229.5,1336.0 314.4,1335.1 399.3,1324.5 484.2,1301.6 569.1,1300.4 654.0,1270.7 738.9,1272.2 823.8,1275.3 908.7,1260.2 993.6,1247.0 1078.5,1251.9 1163.4,1221.2 1248.3,1225.8 1333.2,1244.8 1418.1,1228.0 1503.0,1227.6 1587.9,1241.1 1672.8,1242.4 1770.0,1238.1"/>
<polyline points="64.0,1341.9 76.0,1343.3 104.5,1348.8 174.0,1344.2 229.5,1338.2 314.4,1332.5 399.3,1330.2 484.2,1328.9 569.1,1332.3 654.0,1322.8 738.9,1297.1 823.8,1294.2 908.7,1273.5 993.6,1260.9 1078.5,1257.3 1163.4,1253.5 1248.3,1259.4 1333.2,1254.3 1418.1,1236.4 1503.0,1240.8 1587.9,1234.6 1672.8,1232.3 1770.0,1226.8"/>
<polyline points="64.0,1361.1 76.0,1360.1 104.5,1363.7 174.0,1359.6 229.5,1356.8 314.4,1347.7 399.3,1343.7 484.2,1342.5 569.1,1345.0 654.0,1336.0 738.9,1332.2 823.8,1324.8 908.7,1323.8 993.6,1321.5 1078.5,1332.4 1163.4,1336.1 1248.3,1331.1 1333.2,1322.1 1418.1,1308.7 1503.0,1271.2 1587.9,1266.4 1672.8,1271.3 1770.0,1254.0"/>
<polyline points="64.0,1312.4 76.0,1310.6 104.5,1299.6 174.0,1285.4 229.5,1277.5 314.4,1273.5 399.3,1267.8 484.2,1286.2 569.1,1288.3 654.0,1292.8 738.9,1292.8 823.8,1265.0 908.7,1229.8 993.6,1214.2 1078.5,1202.3 1163.4,1198.6 1248.3,1193.7 1333.2,1162.1 1418.1,1150.0 1503.0,1133.7 1587.9,1122.6 1672.8,1115.0 1770.0,1131.6"/>
<polyline points="64.0,1328.4 76.0,1331.9 104.5,1335.0 174.0,1336.1 229.5,1325.3 314.4,1321.2 399.3,1315.5 484.2,1298.8 569.1,1284.8 654.0,1277.7 738.9,1306.9 823.8,1284.4 908.7,1289.4 993.6,1280.6 1078.5,1258.3 1163.4,1242.8 1248.3,1236.3 1333.2,1237.0 1418.1,1205.3 1503.0,1203.8 1587.9,1201.0 1672.8,1171.3 1770.0,1169.9"/>
<polyline points="64.0,1314.1 76.0,1312.4 104.5,1313.1 174.0,1309.4 229.5,1288.8 314.4,1301.1 399.3,1288.6 484.2,1276.9 569.1,1291.0 654.0,1280.9 738.9,1274.0 823.8,1233.3 908.7,1234.9 993.6,1211.7 1078.5,1200.4 1163.4,1183.9 1248.3,1173.8 1333.2,1156.8 1418.1,1147.6 1503.0,1154.8 1587.9,1148.7 1672.8,1149.9 1770.0,1134.0"/>
<polyline points="64.0,1310.7 76.0,1310.0 104.5,1298.8 174.0,1286.0 229.5,1281.2 314.4,1294.9 399.3,1274.0 484.2,1271.6 569.1,1273.0 654.0,1279.3 738.9,1289.5 823.8,1277.8 908.7,1271.0 993.6,1248.0 1078.5,1246.3 1163.4,1245.3 1248.3,1239.2 1333.2,1243.8 1418.1,1211.8 1503.0,1203.5 1587.9,1191.8 1672.8,1185.2 1770.0,1179.5"/>
<polyline points="64.0,1323.8 76.0,1322.6 104.5,1316.5 174.0,1306.1 229.5,1298.6 314.4,1291.9 399.3,1291.9 484.2,1286.2 569.1,1280.1 654.0,1274.0 738.9,1271.2 823.8,1258.1 908.7,1242.4 993.6,1224.3 1078.5,1200.6 1160.0,1081.0 1249.0,1032.0 1336.0,1020.0 1428.0,984.0 1568.6,868.0 1671.4,808.6 1770.0,746.4"/>
<polyline points="64.0,1334.7 76.0,1335.5 104.5,1327.3 174.0,1320.2 229.5,1317.6 314.4,1310.0 399.3,1311.1 484.2,1306.6 569.1,1301.5 654.0,1298.0 738.9,1295.6 823.8,1286.4 908.7,1274.9 993.6,1269.6 1078.5,1264.9 1163.4,1254.9 1248.3,1232.8 1333.2,1200.3 1418.1,1159.2 1503.0,1040.0 1551.0,980.0 1601.4,928.6 1670.0,826.7 1770.0,814.0"/>
<polyline points="64.0,1319.3 76.0,1318.0 104.5,1307.8 174.0,1293.4 229.5,1292.7 314.4,1287.0 399.3,1280.6 484.2,1275.3 569.1,1270.2 654.0,1266.3 738.9,1259.9 823.8,1248.6 908.7,1239.8 993.6,1224.3 1078.5,1213.7 1163.4,1193.8 1248.3,1173.9 1333.0,1046.0 1428.0,1007.0 1480.0,937.0 1502.1,910.7 1587.0,1009.0 1672.0,990.0 1770.0,980.5"/>
<polyline points="64.0,1328.4 76.0,1326.7 104.5,1319.7 174.0,1311.6 229.5,1308.9 314.4,1302.7 399.3,1297.4 484.2,1293.5 569.1,1289.2 654.0,1286.1 738.9,1281.4 823.8,1270.3 908.7,1261.2 993.6,1256.3 1078.5,1244.9 1163.4,1227.1 1248.3,1199.4 1333.2,1165.3 1420.0,1018.0 1505.0,938.3 1588.6,907.9 1674.3,957.9 1770.0,965.0"/>
<polyline points="64.0,1338.2 76.0,1338.9 104.5,1336.0 174.0,1332.1 229.5,1326.5 314.4,1321.9 399.3,1320.6 484.2,1319.4 569.1,1314.7 654.0,1312.6 738.9,1307.3 823.8,1298.6 908.7,1292.3 993.6,1287.5 1078.5,1285.6 1163.4,1270.9 1248.3,1247.5 1333.2,1213.8 1418.1,1165.4 1503.0,1062.0 1591.0,974.0 1672.9,905.0 1770.0,840.7"/>
<polyline points="64.0,1331.3 76.0,1331.1 104.5,1323.0 174.0,1317.0 229.5,1313.9 314.4,1309.6 399.3,1303.2 484.2,1300.9 569.1,1295.5 654.0,1290.2 738.9,1287.1 823.8,1279.0 908.7,1269.4 993.6,1263.9 1078.5,1257.1 1163.4,1247.4 1248.3,1233.3 1333.2,1210.3 1418.1,1184.7 1503.0,1143.9 1588.0,1032.0 1672.9,905.0 1770.0,866.4"/>
<polyline points="64.0,1345.6 76.0,1344.9 104.5,1339.0 174.0,1337.8 229.5,1333.0 314.4,1329.0 399.3,1325.5 484.2,1322.2 569.1,1319.2 654.0,1318.6 738.9,1313.5 823.8,1307.3 908.7,1302.5 993.6,1295.8 1078.5,1292.0 1163.4,1282.4 1248.3,1270.2 1333.2,1248.2 1418.1,1208.0 1503.0,1159.6 1588.0,1085.0 1672.0,996.0 1770.0,887.0"/>
<polyline points="64.0,1339.0 76.0,1337.7 104.5,1329.0 174.0,1323.5 229.5,1320.2 314.4,1316.4 399.3,1316.2 484.2,1310.6 569.1,1307.0 654.0,1304.0 738.9,1300.4 823.8,1290.5 908.7,1286.5 993.6,1280.6 1078.5,1272.5 1163.4,1266.0 1248.3,1250.0 1333.2,1228.8 1418.1,1195.2 1503.0,1151.8 1588.0,1075.0 1672.0,1003.0 1770.0,911.4"/>
<polyline points="64.0,1323.5 76.0,1320.5 104.5,1309.0 174.0,1300.8 229.5,1295.5 314.4,1291.2 399.3,1285.2 484.2,1281.6 569.1,1276.0 654.0,1271.9 738.9,1264.2 823.8,1253.4 908.7,1245.4 993.6,1234.6 1078.5,1226.1 1163.4,1210.0 1248.3,1187.0 1333.2,1161.0 1418.0,1080.0 1503.0,1050.0 1588.0,1000.0 1672.0,955.0 1770.0,922.6"/>
<polyline points="64.0,1320.0 105.0,1305.0 230.0,1291.0 400.0,1276.0 569.0,1262.0 661.0,1225.0 746.3,1172.5 830.4,1171.0 908.7,1140.0 998.0,1085.0 1079.0,1070.6 1160.0,1081.0 1251.0,1116.0 1336.0,1078.0 1418.0,1062.0 1503.0,1055.0 1588.0,1040.0 1672.0,1020.0 1770.0,998.5"/>
<polyline points="64.0,1322.0 105.0,1303.0 230.0,1287.0 400.0,1268.0 490.0,1240.0 578.1,1203.7 661.0,1246.0 746.0,1225.0 830.0,1215.0 908.0,1190.0 994.0,1170.0 1079.0,1150.0 1163.0,1128.0 1248.0,1110.0 1333.0,1100.0 1418.0,1090.0 1503.0,1070.0 1588.0,1062.0 1672.0,1040.0 1770.0,1009.5"/>
<polyline points="64.0,1318.0 105.0,1300.0 230.0,1284.0 400.0,1266.0 480.0,1246.0 656.2,1186.5 746.0,1198.0 830.0,1194.0 908.0,1170.0 998.0,1130.6 1080.0,1119.6 1120.0,1144.0 1248.0,1120.0 1333.0,1095.0 1418.0,1075.0 1503.0,1068.0 1588.0,1050.0 1672.0,1030.0 1770.0,1020.0"/>
<polyline points="64.0,1316.0 76.0,1314.0 105.0,1298.0 174.0,1283.0 250.0,1268.0 403.3,1239.2 466.4,1251.0 569.0,1248.0 654.0,1243.0 739.0,1232.0 824.0,1226.0 908.0,1214.0 994.0,1200.0 1079.0,1192.0 1163.0,1180.0 1248.0,1166.0 1333.0,1140.0 1418.0,1110.0 1503.0,1090.0 1588.0,1080.0 1672.0,1060.0 1770.0,1042.0"/>
<polyline points="64.0,1310.0 76.0,1307.8 104.5,1291.7 130.0,1291.0 174.0,1271.0 229.5,1257.0 314.0,1256.0 403.0,1253.0 466.0,1257.0 569.0,1250.0 654.0,1246.0 739.0,1236.0 824.0,1228.0 908.0,1216.0 994.0,1204.0 1079.0,1196.0 1163.0,1184.0 1248.0,1170.0 1333.0,1152.0 1418.0,1134.0 1503.0,1120.0 1588.0,1106.0 1672.0,1092.0 1770.0,1071.0"/>
<polyline points="64.0,1312.0 76.0,1310.0 104.5,1297.0 174.0,1269.5 229.5,1270.0 314.0,1268.0 399.0,1262.0 484.0,1256.0 569.0,1253.0 654.0,1248.0 739.0,1240.0 824.0,1232.0 908.0,1220.0 994.0,1208.0 1079.0,1200.0 1163.0,1188.0 1248.0,1174.0 1333.0,1158.0 1418.0,1140.0 1503.0,1126.0 1588.0,1112.0 1672.0,1098.0 1770.0,1080.0"/>
</g>
<text y="579.0" font-size="36.6" style="font-family:'Liberation Sans',Arial,sans-serif;font-weight:700" fill="#000" stroke="#000" stroke-width="1.2" stroke-linejoin="round"><tspan x="1789.2" textLength="208.8" lengthAdjust="spacingAndGlyphs">$1,000,000</tspan></text>
<text y="749.5" font-size="36.6" style="font-family:'Liberation Sans',Arial,sans-serif;font-weight:700" fill="#000" stroke="#000" stroke-width="1.2" stroke-linejoin="round"><tspan x="1789.1" textLength="180.5" lengthAdjust="spacingAndGlyphs">$800,000</tspan></text>
<text y="920.0" font-size="36.6" style="font-family:'Liberation Sans',Arial,sans-serif;font-weight:700" fill="#000" stroke="#000" stroke-width="1.2" stroke-linejoin="round"><tspan x="1789.1" textLength="180.5" lengthAdjust="spacingAndGlyphs">$600,000</tspan></text>
<text y="1090.5" font-size="36.6" style="font-family:'Liberation Sans',Arial,sans-serif;font-weight:700" fill="#000" stroke="#000" stroke-width="1.2" stroke-linejoin="round"><tspan x="1789.1" textLength="180.5" lengthAdjust="spacingAndGlyphs">$400,000</tspan></text>
<text y="1261.0" font-size="36.6" style="font-family:'Liberation Sans',Arial,sans-serif;font-weight:700" fill="#000" stroke="#000" stroke-width="1.2" stroke-linejoin="round"><tspan x="1789.1" textLength="180.5" lengthAdjust="spacingAndGlyphs">$200,000</tspan></text>
<text y="1431.5" font-size="36.6" style="font-family:'Liberation Sans',Arial,sans-serif;font-weight:700" fill="#000" stroke="#000" stroke-width="1.2" stroke-linejoin="round"><tspan x="1789.1" textLength="48.1" lengthAdjust="spacingAndGlyphs">$0</tspan></text>
<text transform="translate(2031.6,871.8) rotate(90)" font-size="38.4" style="font-family:'Liberation Sans',Arial,sans-serif;font-weight:400" textLength="250" lengthAdjust="spacingAndGlyphs" stroke="#fff" stroke-width="0.7">Portfolio Value</text>
<text x="38.0" y="1483.3" font-size="36.5" style="font-family:'Liberation Sans',Arial,sans-serif;font-weight:400" fill="#000" textLength="93" lengthAdjust="spacingAndGlyphs" stroke="#fff" stroke-width="0.7">2022</text>
<text x="205.3" y="1483.3" font-size="36.5" style="font-family:'Liberation Sans',Arial,sans-serif;font-weight:400" fill="#000" textLength="93" lengthAdjust="spacingAndGlyphs" stroke="#fff" stroke-width="0.7">2024</text>
<text x="372.6" y="1483.3" font-size="36.5" style="font-family:'Liberation Sans',Arial,sans-serif;font-weight:400" fill="#000" textLength="93" lengthAdjust="spacingAndGlyphs" stroke="#fff" stroke-width="0.7">2026</text>
<text x="539.9" y="1483.3" font-size="36.5" style="font-family:'Liberation Sans',Arial,sans-serif;font-weight:400" fill="#000" textLength="93" lengthAdjust="spacingAndGlyphs" stroke="#fff" stroke-width="0.7">2028</text>
<text x="707.2" y="1483.3" font-size="36.5" style="font-family:'Liberation Sans',Arial,sans-serif;font-weight:400" fill="#000" textLength="93" lengthAdjust="spacingAndGlyphs" stroke="#fff" stroke-width="0.7">2030</text>
<text x="874.5" y="1483.3" font-size="36.5" style="font-family:'Liberation Sans',Arial,sans-serif;font-weight:400" fill="#000" textLength="93" lengthAdjust="spacingAndGlyphs" stroke="#fff" stroke-width="0.7">2032</text>
<text x="1041.8" y="1483.3" font-size="36.5" style="font-family:'Liberation Sans',Arial,sans-serif;font-weight:400" fill="#000" textLength="93" lengthAdjust="spacingAndGlyphs" stroke="#fff" stroke-width="0.7">2034</text>
<text x="1209.1" y="1483.3" font-size="36.5" style="font-family:'Liberation Sans',Arial,sans-serif;font-weight:400" fill="#000" textLength="93" lengthAdjust="spacingAndGlyphs" stroke="#fff" stroke-width="0.7">2036</text>
<text x="1376.4" y="1483.3" font-size="36.5" style="font-family:'Liberation Sans',Arial,sans-serif;font-weight:400" fill="#000" textLength="93" lengthAdjust="spacingAndGlyphs" stroke="#fff" stroke-width="0.7">2038</text>
<text x="1543.7" y="1483.3" font-size="36.5" style="font-family:'Liberation Sans',Arial,sans-serif;font-weight:400" fill="#000" textLength="93" lengthAdjust="spacingAndGlyphs" stroke="#fff" stroke-width="0.7">2040</text>
<text x="1711.0" y="1483.3" font-size="36.5" style="font-family:'Liberation Sans',Arial,sans-serif;font-weight:400" fill="#000" textLength="93" lengthAdjust="spacingAndGlyphs" stroke="#fff" stroke-width="0.7">2042</text>
<rect x="70.7" y="1574.3" width="80.3" height="2" fill="#0f7b3e"/>
<rect x="459.3" y="1574.3" width="80" height="2" fill="#be1e2d"/>
<text x="188" y="1587.3" font-size="35" style="font-family:'Liberation Sans',Arial,sans-serif;font-weight:700" fill="#000" textLength="187" lengthAdjust="spacingAndGlyphs" stroke="#000" stroke-width="1.2" stroke-linejoin="round">Successes</text>
<text x="577" y="1587.3" font-size="35" style="font-family:'Liberation Sans',Arial,sans-serif;font-weight:700" fill="#000" textLength="144" lengthAdjust="spacingAndGlyphs" stroke="#000" stroke-width="1.2" stroke-linejoin="round">Failures</text>
</svg>
</body></html>
